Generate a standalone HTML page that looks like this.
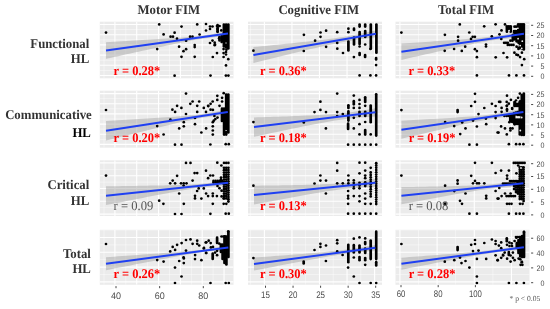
<!DOCTYPE html>
<html><head><meta charset="utf-8"><title>FIM vs HL correlations</title>
<style>
html,body{margin:0;padding:0;background:#fff;width:550px;height:309px;overflow:hidden}
svg{display:block;filter:blur(0.3px)}
text{text-rendering:geometricPrecision}
.hd{font-family:"Liberation Serif",serif;font-weight:bold;font-size:13.4px;fill:#333333}
.hk{fill:#000000}
.ax{font-family:"Liberation Sans",sans-serif;font-size:9.5px;fill:#4D4D4D}
.ay{font-family:"Liberation Sans",sans-serif;font-size:8.0px;fill:#4D4D4D}
.rs{font-family:"Liberation Serif",serif;font-weight:bold;font-size:13.2px;fill:#FF0000}
.rn{font-family:"Liberation Serif",serif;font-size:13.2px;fill:#555555}
.pv{font-family:"Liberation Serif",serif;font-size:7.8px;fill:#555555}
</style></head><body>
<svg width="550" height="309" viewBox="0 0 550 309">
<rect width="550" height="309" fill="#ffffff"/>
<clipPath id="c00"><rect x="99.8" y="21.7" width="133.70" height="56.60"/></clipPath>
<rect x="99.8" y="21.7" width="133.70" height="56.60" fill="#EBEBEB"/>
<g clip-path="url(#c00)"><line x1="103.99" y1="21.7" x2="103.99" y2="78.3" stroke="#fff" stroke-width="0.55" opacity="0.8"/><line x1="125.81" y1="21.7" x2="125.81" y2="78.3" stroke="#fff" stroke-width="0.55" opacity="0.8"/><line x1="147.64" y1="21.7" x2="147.64" y2="78.3" stroke="#fff" stroke-width="0.55" opacity="0.8"/><line x1="169.46" y1="21.7" x2="169.46" y2="78.3" stroke="#fff" stroke-width="0.55" opacity="0.8"/><line x1="191.29" y1="21.7" x2="191.29" y2="78.3" stroke="#fff" stroke-width="0.55" opacity="0.8"/><line x1="213.11" y1="21.7" x2="213.11" y2="78.3" stroke="#fff" stroke-width="0.55" opacity="0.8"/><line x1="99.8" y1="70.40" x2="233.5" y2="70.40" stroke="#fff" stroke-width="0.55" opacity="0.8"/><line x1="99.8" y1="60.20" x2="233.5" y2="60.20" stroke="#fff" stroke-width="0.55" opacity="0.8"/><line x1="99.8" y1="50.00" x2="233.5" y2="50.00" stroke="#fff" stroke-width="0.55" opacity="0.8"/><line x1="99.8" y1="39.80" x2="233.5" y2="39.80" stroke="#fff" stroke-width="0.55" opacity="0.8"/><line x1="99.8" y1="29.60" x2="233.5" y2="29.60" stroke="#fff" stroke-width="0.55" opacity="0.8"/><line x1="114.90" y1="21.7" x2="114.90" y2="78.3" stroke="#fff" stroke-width="1.1"/><line x1="136.72" y1="21.7" x2="136.72" y2="78.3" stroke="#fff" stroke-width="1.1"/><line x1="158.55" y1="21.7" x2="158.55" y2="78.3" stroke="#fff" stroke-width="1.1"/><line x1="180.38" y1="21.7" x2="180.38" y2="78.3" stroke="#fff" stroke-width="1.1"/><line x1="202.20" y1="21.7" x2="202.20" y2="78.3" stroke="#fff" stroke-width="1.1"/><line x1="224.03" y1="21.7" x2="224.03" y2="78.3" stroke="#fff" stroke-width="1.1"/><line x1="99.8" y1="75.50" x2="233.5" y2="75.50" stroke="#fff" stroke-width="1.1"/><line x1="99.8" y1="65.30" x2="233.5" y2="65.30" stroke="#fff" stroke-width="1.1"/><line x1="99.8" y1="55.10" x2="233.5" y2="55.10" stroke="#fff" stroke-width="1.1"/><line x1="99.8" y1="44.90" x2="233.5" y2="44.90" stroke="#fff" stroke-width="1.1"/><line x1="99.8" y1="34.70" x2="233.5" y2="34.70" stroke="#fff" stroke-width="1.1"/><line x1="99.8" y1="24.50" x2="233.5" y2="24.50" stroke="#fff" stroke-width="1.1"/>
<polygon points="106.00,42.20 110.07,41.97 114.13,41.73 118.20,41.49 122.27,41.26 126.33,41.02 130.40,40.78 134.47,40.54 138.53,40.30 142.60,40.06 146.67,39.81 150.73,39.57 154.80,39.32 158.87,39.06 162.93,38.81 167.00,38.55 171.07,38.28 175.13,38.00 179.20,37.71 183.27,37.41 187.33,37.09 191.40,36.74 195.47,36.35 199.53,35.90 203.60,35.40 207.67,34.82 211.73,34.18 215.80,33.48 219.87,32.73 223.93,31.95 228.00,31.14 228.00,36.06 223.93,36.38 219.87,36.72 215.80,37.10 211.73,37.52 207.67,38.01 203.60,38.56 199.53,39.18 195.47,39.87 191.40,40.60 187.33,41.38 183.27,42.18 179.20,43.01 175.13,43.84 171.07,44.69 167.00,45.55 162.93,46.42 158.87,47.29 154.80,48.16 150.73,49.04 146.67,49.92 142.60,50.80 138.53,51.69 134.47,52.57 130.40,53.46 126.33,54.35 122.27,55.24 118.20,56.13 114.13,57.02 110.07,57.91 106.00,58.80" fill="#999999" fill-opacity="0.43"/>
<g fill="#000"><circle cx="106" cy="32.6" r="1.35"/><circle cx="159.2" cy="24.4" r="1.35"/><circle cx="163.6" cy="34.4" r="1.35"/><circle cx="157.2" cy="49.1" r="1.35"/><circle cx="181.5" cy="26.6" r="1.35"/><circle cx="197.2" cy="24.4" r="1.35"/><circle cx="174.6" cy="32.7" r="1.35"/><circle cx="170.6" cy="36.7" r="1.35"/><circle cx="173" cy="36.7" r="1.35"/><circle cx="177" cy="38.7" r="1.35"/><circle cx="190.1" cy="36.7" r="1.35"/><circle cx="192.5" cy="36.7" r="1.35"/><circle cx="199.6" cy="34.5" r="1.35"/><circle cx="186.1" cy="40.7" r="1.35"/><circle cx="179.1" cy="46.7" r="1.35"/><circle cx="194.7" cy="45.1" r="1.35"/><circle cx="194.7" cy="47.1" r="1.35"/><circle cx="186.1" cy="49.2" r="1.35"/><circle cx="183.5" cy="51.2" r="1.35"/><circle cx="181.5" cy="56.8" r="1.35"/><circle cx="194.7" cy="56.8" r="1.35"/><circle cx="174.6" cy="75.7" r="1.35"/><circle cx="206" cy="24" r="1.35"/><circle cx="210" cy="26.5" r="1.35"/><circle cx="212.5" cy="26.5" r="1.35"/><circle cx="210" cy="29" r="1.35"/><circle cx="206" cy="30.5" r="1.35"/><circle cx="217" cy="26" r="1.35"/><circle cx="219.6" cy="26" r="1.35"/><circle cx="217.5" cy="29" r="1.35"/><circle cx="217.5" cy="31.5" r="1.35"/><circle cx="221.3" cy="30.4" r="1.35"/><circle cx="210" cy="43" r="1.35"/><circle cx="212.5" cy="40.6" r="1.35"/><circle cx="215" cy="44.6" r="1.35"/><circle cx="219.1" cy="38.2" r="1.35"/><circle cx="214.7" cy="42.7" r="1.35"/><circle cx="214.7" cy="45.2" r="1.35"/><circle cx="217" cy="53.1" r="1.35"/><circle cx="212.8" cy="57" r="1.35"/><circle cx="226.4" cy="49.7" r="1.35"/><circle cx="226" cy="52" r="1.35"/><circle cx="226" cy="54.5" r="1.35"/><circle cx="223.6" cy="49.1" r="1.35"/><circle cx="223.6" cy="53.1" r="1.35"/><circle cx="223.6" cy="57" r="1.35"/><circle cx="228.3" cy="59.2" r="1.35"/><circle cx="226" cy="65.4" r="1.35"/><circle cx="210.5" cy="75.6" r="1.35"/><circle cx="225.9" cy="75.6" r="1.35"/><circle cx="228.4" cy="75.6" r="1.35"/><line x1="228.3" y1="24.6" x2="228.3" y2="48.5" stroke="#000" stroke-width="2.7" stroke-linecap="round"/><line x1="226.1" y1="24.6" x2="226.1" y2="41.5" stroke="#000" stroke-width="2.7" stroke-linecap="round"/><line x1="226.1" y1="44.5" x2="226.1" y2="47.5" stroke="#000" stroke-width="2.7" stroke-linecap="round"/><line x1="223.9" y1="24.6" x2="223.9" y2="46.5" stroke="#000" stroke-width="2.7" stroke-linecap="round"/><line x1="221.7" y1="36" x2="221.7" y2="42" stroke="#000" stroke-width="2.7" stroke-linecap="round"/><line x1="219.5" y1="37" x2="219.5" y2="40.5" stroke="#000" stroke-width="2.7" stroke-linecap="round"/><line x1="217.6" y1="25.2" x2="217.6" y2="31.8" stroke="#000" stroke-width="2.7" stroke-linecap="round"/></g>
<line x1="106" y1="50.5" x2="228.0" y2="33.6" stroke="#1F40F2" stroke-width="2.0"/>
</g>
<text transform="translate(113.60,74.60) scale(0.945,1)" class="rs" text-anchor="start">r = 0.28*</text>
<clipPath id="c01"><rect x="248.0" y="21.7" width="134.00" height="56.60"/></clipPath>
<rect x="248.0" y="21.7" width="134.00" height="56.60" fill="#EBEBEB"/>
<g clip-path="url(#c01)"><line x1="250.62" y1="21.7" x2="250.62" y2="78.3" stroke="#fff" stroke-width="0.55" opacity="0.8"/><line x1="278.17" y1="21.7" x2="278.17" y2="78.3" stroke="#fff" stroke-width="0.55" opacity="0.8"/><line x1="305.72" y1="21.7" x2="305.72" y2="78.3" stroke="#fff" stroke-width="0.55" opacity="0.8"/><line x1="333.27" y1="21.7" x2="333.27" y2="78.3" stroke="#fff" stroke-width="0.55" opacity="0.8"/><line x1="360.82" y1="21.7" x2="360.82" y2="78.3" stroke="#fff" stroke-width="0.55" opacity="0.8"/><line x1="248.0" y1="70.40" x2="382.0" y2="70.40" stroke="#fff" stroke-width="0.55" opacity="0.8"/><line x1="248.0" y1="60.20" x2="382.0" y2="60.20" stroke="#fff" stroke-width="0.55" opacity="0.8"/><line x1="248.0" y1="50.00" x2="382.0" y2="50.00" stroke="#fff" stroke-width="0.55" opacity="0.8"/><line x1="248.0" y1="39.80" x2="382.0" y2="39.80" stroke="#fff" stroke-width="0.55" opacity="0.8"/><line x1="248.0" y1="29.60" x2="382.0" y2="29.60" stroke="#fff" stroke-width="0.55" opacity="0.8"/><line x1="264.40" y1="21.7" x2="264.40" y2="78.3" stroke="#fff" stroke-width="1.1"/><line x1="291.95" y1="21.7" x2="291.95" y2="78.3" stroke="#fff" stroke-width="1.1"/><line x1="319.50" y1="21.7" x2="319.50" y2="78.3" stroke="#fff" stroke-width="1.1"/><line x1="347.05" y1="21.7" x2="347.05" y2="78.3" stroke="#fff" stroke-width="1.1"/><line x1="374.60" y1="21.7" x2="374.60" y2="78.3" stroke="#fff" stroke-width="1.1"/><line x1="248.0" y1="75.50" x2="382.0" y2="75.50" stroke="#fff" stroke-width="1.1"/><line x1="248.0" y1="65.30" x2="382.0" y2="65.30" stroke="#fff" stroke-width="1.1"/><line x1="248.0" y1="55.10" x2="382.0" y2="55.10" stroke="#fff" stroke-width="1.1"/><line x1="248.0" y1="44.90" x2="382.0" y2="44.90" stroke="#fff" stroke-width="1.1"/><line x1="248.0" y1="34.70" x2="382.0" y2="34.70" stroke="#fff" stroke-width="1.1"/><line x1="248.0" y1="24.50" x2="382.0" y2="24.50" stroke="#fff" stroke-width="1.1"/>
<polygon points="253.40,47.10 257.48,46.70 261.57,46.30 265.65,45.89 269.73,45.49 273.82,45.08 277.90,44.67 281.98,44.25 286.07,43.84 290.15,43.42 294.23,42.99 298.32,42.56 302.40,42.12 306.48,41.67 310.57,41.22 314.65,40.75 318.73,40.27 322.82,39.77 326.90,39.25 330.98,38.71 335.07,38.14 339.15,37.53 343.23,36.89 347.32,36.21 351.40,35.49 355.48,34.72 359.57,33.92 363.65,33.08 367.73,32.21 371.82,31.32 375.90,30.40 375.90,37.20 371.82,37.70 367.73,38.23 363.65,38.78 359.57,39.36 355.48,39.98 351.40,40.63 347.32,41.33 343.23,42.07 339.15,42.85 335.07,43.66 330.98,44.51 326.90,45.39 322.82,46.29 318.73,47.21 314.65,48.15 310.57,49.10 306.48,50.07 302.40,51.04 298.32,52.02 294.23,53.01 290.15,54.00 286.07,55.00 281.98,56.01 277.90,57.01 273.82,58.02 269.73,59.03 265.65,60.05 261.57,61.06 257.48,62.08 253.40,63.10" fill="#999999" fill-opacity="0.43"/>
<g fill="#000"><circle cx="253.4" cy="50.7" r="1.35"/><circle cx="303.9" cy="34.8" r="1.35"/><circle cx="303.8" cy="51" r="1.35"/><circle cx="315.1" cy="40.7" r="1.35"/><circle cx="320.5" cy="32.5" r="1.35"/><circle cx="320.5" cy="36.8" r="1.35"/><circle cx="326.1" cy="30.7" r="1.35"/><circle cx="326.1" cy="46.8" r="1.35"/><circle cx="337.2" cy="32.2" r="1.35"/><circle cx="337.2" cy="42.9" r="1.35"/><circle cx="337.3" cy="48.7" r="1.35"/><circle cx="343" cy="53" r="1.35"/><circle cx="348.4" cy="28.7" r="1.35"/><circle cx="348.4" cy="32.2" r="1.35"/><circle cx="353.9" cy="57.1" r="1.35"/><circle cx="365.2" cy="44.5" r="1.35"/><circle cx="359.6" cy="46.5" r="1.35"/><circle cx="370.4" cy="49" r="1.35"/><circle cx="376.1" cy="65.1" r="1.35"/><circle cx="376.1" cy="75.4" r="1.35"/><circle cx="359.6" cy="75.4" r="1.35"/><circle cx="370.4" cy="75.4" r="1.35"/><line x1="348.4" y1="41.5" x2="348.4" y2="50.5" stroke="#000" stroke-width="2.7" stroke-linecap="round"/><line x1="354" y1="28.7" x2="354" y2="30" stroke="#000" stroke-width="2.7" stroke-linecap="round"/><line x1="354" y1="37.5" x2="354" y2="44.5" stroke="#000" stroke-width="2.7" stroke-linecap="round"/><line x1="359.6" y1="24.6" x2="359.6" y2="26.6" stroke="#000" stroke-width="2.7" stroke-linecap="round"/><line x1="359.6" y1="32" x2="359.6" y2="44" stroke="#000" stroke-width="2.7" stroke-linecap="round"/><line x1="359.6" y1="53" x2="359.6" y2="55" stroke="#000" stroke-width="2.7" stroke-linecap="round"/><line x1="365.2" y1="24.6" x2="365.2" y2="26.6" stroke="#000" stroke-width="2.7" stroke-linecap="round"/><line x1="365.2" y1="31" x2="365.2" y2="37" stroke="#000" stroke-width="2.7" stroke-linecap="round"/><line x1="365.1" y1="55" x2="365.1" y2="57" stroke="#000" stroke-width="2.7" stroke-linecap="round"/><line x1="370.8" y1="24.6" x2="370.8" y2="48.5" stroke="#000" stroke-width="2.7" stroke-linecap="round"/><line x1="376.4" y1="24.6" x2="376.4" y2="52.7" stroke="#000" stroke-width="2.7" stroke-linecap="round"/><line x1="376.1" y1="58" x2="376.1" y2="59.4" stroke="#000" stroke-width="2.7" stroke-linecap="round"/></g>
<line x1="253.4" y1="55.1" x2="375.9" y2="33.8" stroke="#1F40F2" stroke-width="2.0"/>
</g>
<text transform="translate(260.10,74.60) scale(0.945,1)" class="rs" text-anchor="start">r = 0.36*</text>
<clipPath id="c02"><rect x="395.5" y="21.7" width="134.00" height="56.60"/></clipPath>
<rect x="395.5" y="21.7" width="134.00" height="56.60" fill="#EBEBEB"/>
<g clip-path="url(#c02)"><line x1="418.50" y1="21.7" x2="418.50" y2="78.3" stroke="#fff" stroke-width="0.55" opacity="0.8"/><line x1="455.70" y1="21.7" x2="455.70" y2="78.3" stroke="#fff" stroke-width="0.55" opacity="0.8"/><line x1="492.90" y1="21.7" x2="492.90" y2="78.3" stroke="#fff" stroke-width="0.55" opacity="0.8"/><line x1="395.5" y1="70.40" x2="529.5" y2="70.40" stroke="#fff" stroke-width="0.55" opacity="0.8"/><line x1="395.5" y1="60.20" x2="529.5" y2="60.20" stroke="#fff" stroke-width="0.55" opacity="0.8"/><line x1="395.5" y1="50.00" x2="529.5" y2="50.00" stroke="#fff" stroke-width="0.55" opacity="0.8"/><line x1="395.5" y1="39.80" x2="529.5" y2="39.80" stroke="#fff" stroke-width="0.55" opacity="0.8"/><line x1="395.5" y1="29.60" x2="529.5" y2="29.60" stroke="#fff" stroke-width="0.55" opacity="0.8"/><line x1="399.90" y1="21.7" x2="399.90" y2="78.3" stroke="#fff" stroke-width="1.1"/><line x1="437.10" y1="21.7" x2="437.10" y2="78.3" stroke="#fff" stroke-width="1.1"/><line x1="474.30" y1="21.7" x2="474.30" y2="78.3" stroke="#fff" stroke-width="1.1"/><line x1="511.50" y1="21.7" x2="511.50" y2="78.3" stroke="#fff" stroke-width="1.1"/><line x1="395.5" y1="75.50" x2="529.5" y2="75.50" stroke="#fff" stroke-width="1.1"/><line x1="395.5" y1="65.30" x2="529.5" y2="65.30" stroke="#fff" stroke-width="1.1"/><line x1="395.5" y1="55.10" x2="529.5" y2="55.10" stroke="#fff" stroke-width="1.1"/><line x1="395.5" y1="44.90" x2="529.5" y2="44.90" stroke="#fff" stroke-width="1.1"/><line x1="395.5" y1="34.70" x2="529.5" y2="34.70" stroke="#fff" stroke-width="1.1"/><line x1="395.5" y1="24.50" x2="529.5" y2="24.50" stroke="#fff" stroke-width="1.1"/>
<polygon points="401.40,43.50 405.48,43.24 409.57,42.98 413.65,42.71 417.73,42.45 421.82,42.18 425.90,41.92 429.98,41.65 434.07,41.37 438.15,41.10 442.23,40.82 446.32,40.54 450.40,40.25 454.48,39.96 458.57,39.66 462.65,39.35 466.73,39.02 470.82,38.68 474.90,38.32 478.98,37.94 483.07,37.52 487.15,37.05 491.23,36.54 495.32,35.97 499.40,35.34 503.48,34.65 507.57,33.91 511.65,33.13 515.73,32.32 519.82,31.48 523.90,30.63 523.90,36.97 519.82,37.31 515.73,37.66 511.65,38.05 507.57,38.46 503.48,38.92 499.40,39.42 495.32,39.99 491.23,40.61 487.15,41.29 483.07,42.02 478.98,42.79 474.90,43.60 470.82,44.43 466.73,45.28 462.65,46.15 458.57,47.04 454.48,47.93 450.40,48.83 446.32,49.73 442.23,50.64 438.15,51.56 434.07,52.48 429.98,53.40 425.90,54.32 421.82,55.25 417.73,56.18 413.65,57.11 409.57,58.04 405.48,58.97 401.40,59.90" fill="#999999" fill-opacity="0.43"/>
<g fill="#000"><circle cx="401.4" cy="32.6" r="1.35"/><circle cx="444.9" cy="34.8" r="1.35"/><circle cx="459.8" cy="24.4" r="1.35"/><circle cx="458.1" cy="36.8" r="1.35"/><circle cx="458.1" cy="40.7" r="1.35"/><circle cx="469.3" cy="32.5" r="1.35"/><circle cx="472.7" cy="36.8" r="1.35"/><circle cx="474.9" cy="36.8" r="1.35"/><circle cx="471" cy="38.9" r="1.35"/><circle cx="465.2" cy="46.7" r="1.35"/><circle cx="454.1" cy="49" r="1.35"/><circle cx="474.9" cy="49.2" r="1.35"/><circle cx="444.7" cy="50.8" r="1.35"/><circle cx="461.8" cy="50.9" r="1.35"/><circle cx="476.9" cy="51.1" r="1.35"/><circle cx="476.9" cy="57.2" r="1.35"/><circle cx="476.9" cy="75.4" r="1.35"/><circle cx="484.2" cy="26.3" r="1.35"/><circle cx="495.6" cy="24.3" r="1.35"/><circle cx="501.5" cy="30.4" r="1.35"/><circle cx="499.5" cy="34.3" r="1.35"/><circle cx="491.8" cy="36.3" r="1.35"/><circle cx="501.3" cy="38.9" r="1.35"/><circle cx="486" cy="44.5" r="1.35"/><circle cx="486" cy="46.5" r="1.35"/><circle cx="495.7" cy="57.3" r="1.35"/><circle cx="503.5" cy="53" r="1.35"/><circle cx="507.1" cy="57.3" r="1.35"/><circle cx="514.4" cy="52.7" r="1.35"/><circle cx="516.4" cy="54.7" r="1.35"/><circle cx="518" cy="55.2" r="1.35"/><circle cx="520.1" cy="57.1" r="1.35"/><circle cx="524.2" cy="59.2" r="1.35"/><circle cx="521.9" cy="65.1" r="1.35"/><circle cx="521.9" cy="52.7" r="1.35"/><circle cx="509" cy="75.4" r="1.35"/><circle cx="516.4" cy="75.4" r="1.35"/><circle cx="524" cy="75.4" r="1.35"/><circle cx="505.0" cy="24.4" r="1.35"/><circle cx="514.5" cy="26.7" r="1.35"/><circle cx="516.1" cy="26.7" r="1.35"/><circle cx="516.6" cy="46.7" r="1.35"/><line x1="506.9" y1="26.3" x2="506.9" y2="31.7" stroke="#000" stroke-width="2.7" stroke-linecap="round"/><line x1="508.8" y1="26.3" x2="508.8" y2="29.2" stroke="#000" stroke-width="2.7" stroke-linecap="round"/><line x1="510.7" y1="26.3" x2="510.7" y2="31.7" stroke="#000" stroke-width="2.7" stroke-linecap="round"/><line x1="514.1" y1="31" x2="514.1" y2="32.3" stroke="#000" stroke-width="2.7" stroke-linecap="round"/><line x1="515.9" y1="31" x2="515.9" y2="32.3" stroke="#000" stroke-width="2.7" stroke-linecap="round"/><line x1="518.2" y1="24.3" x2="518.2" y2="26.5" stroke="#000" stroke-width="2.7" stroke-linecap="round"/><line x1="518.2" y1="30.2" x2="518.2" y2="38" stroke="#000" stroke-width="2.7" stroke-linecap="round"/><line x1="520.1" y1="24.3" x2="520.1" y2="48" stroke="#000" stroke-width="2.7" stroke-linecap="round"/><line x1="522.0" y1="24.3" x2="522.0" y2="49" stroke="#000" stroke-width="2.7" stroke-linecap="round"/><line x1="523.8" y1="24.3" x2="523.8" y2="49.5" stroke="#000" stroke-width="2.7" stroke-linecap="round"/><line x1="512.8" y1="35" x2="512.8" y2="39.5" stroke="#000" stroke-width="2.7" stroke-linecap="round"/><line x1="514.7" y1="34" x2="514.7" y2="39.5" stroke="#000" stroke-width="2.7" stroke-linecap="round"/><line x1="516.6" y1="33" x2="516.6" y2="41.3" stroke="#000" stroke-width="2.7" stroke-linecap="round"/><line x1="518.5" y1="39.5" x2="518.5" y2="42.8" stroke="#000" stroke-width="2.7" stroke-linecap="round"/><line x1="518.5" y1="47.8" x2="518.5" y2="49" stroke="#000" stroke-width="2.7" stroke-linecap="round"/><circle cx="504.10" cy="42.8" r="1.35"/><circle cx="505.95" cy="42.8" r="1.35"/><circle cx="507.80" cy="42.8" r="1.35"/><circle cx="507.80" cy="44.9" r="1.35"/><circle cx="509.70" cy="44.9" r="1.35"/><circle cx="511.60" cy="44.9" r="1.35"/><circle cx="513.50" cy="44.9" r="1.35"/><circle cx="510.40" cy="40.7" r="1.35"/><circle cx="512.40" cy="40.7" r="1.35"/></g>
<g fill="#EBEBEB"><circle cx="518.1" cy="38.7" r="0.9"/><circle cx="522.3" cy="41.2" r="0.9"/><circle cx="521.7" cy="48.5" r="0.9"/><circle cx="520.2" cy="45.6" r="0.9"/><circle cx="509.1" cy="30.6" r="0.9"/></g>
<line x1="401.4" y1="51.7" x2="523.9" y2="33.8" stroke="#1F40F2" stroke-width="2.0"/>
</g>
<text transform="translate(408.50,74.60) scale(0.945,1)" class="rs" text-anchor="start">r = 0.33*</text>
<clipPath id="c10"><rect x="99.8" y="90.7" width="133.70" height="57.00"/></clipPath>
<rect x="99.8" y="90.7" width="133.70" height="57.00" fill="#EBEBEB"/>
<g clip-path="url(#c10)"><line x1="103.99" y1="90.7" x2="103.99" y2="147.7" stroke="#fff" stroke-width="0.55" opacity="0.8"/><line x1="125.81" y1="90.7" x2="125.81" y2="147.7" stroke="#fff" stroke-width="0.55" opacity="0.8"/><line x1="147.64" y1="90.7" x2="147.64" y2="147.7" stroke="#fff" stroke-width="0.55" opacity="0.8"/><line x1="169.46" y1="90.7" x2="169.46" y2="147.7" stroke="#fff" stroke-width="0.55" opacity="0.8"/><line x1="191.29" y1="90.7" x2="191.29" y2="147.7" stroke="#fff" stroke-width="0.55" opacity="0.8"/><line x1="213.11" y1="90.7" x2="213.11" y2="147.7" stroke="#fff" stroke-width="0.55" opacity="0.8"/><line x1="99.8" y1="139.32" x2="233.5" y2="139.32" stroke="#fff" stroke-width="0.55" opacity="0.8"/><line x1="99.8" y1="129.16" x2="233.5" y2="129.16" stroke="#fff" stroke-width="0.55" opacity="0.8"/><line x1="99.8" y1="119.00" x2="233.5" y2="119.00" stroke="#fff" stroke-width="0.55" opacity="0.8"/><line x1="99.8" y1="108.84" x2="233.5" y2="108.84" stroke="#fff" stroke-width="0.55" opacity="0.8"/><line x1="99.8" y1="98.68" x2="233.5" y2="98.68" stroke="#fff" stroke-width="0.55" opacity="0.8"/><line x1="114.90" y1="90.7" x2="114.90" y2="147.7" stroke="#fff" stroke-width="1.1"/><line x1="136.72" y1="90.7" x2="136.72" y2="147.7" stroke="#fff" stroke-width="1.1"/><line x1="158.55" y1="90.7" x2="158.55" y2="147.7" stroke="#fff" stroke-width="1.1"/><line x1="180.38" y1="90.7" x2="180.38" y2="147.7" stroke="#fff" stroke-width="1.1"/><line x1="202.20" y1="90.7" x2="202.20" y2="147.7" stroke="#fff" stroke-width="1.1"/><line x1="224.03" y1="90.7" x2="224.03" y2="147.7" stroke="#fff" stroke-width="1.1"/><line x1="99.8" y1="144.40" x2="233.5" y2="144.40" stroke="#fff" stroke-width="1.1"/><line x1="99.8" y1="134.24" x2="233.5" y2="134.24" stroke="#fff" stroke-width="1.1"/><line x1="99.8" y1="124.08" x2="233.5" y2="124.08" stroke="#fff" stroke-width="1.1"/><line x1="99.8" y1="113.92" x2="233.5" y2="113.92" stroke="#fff" stroke-width="1.1"/><line x1="99.8" y1="103.76" x2="233.5" y2="103.76" stroke="#fff" stroke-width="1.1"/><line x1="99.8" y1="93.60" x2="233.5" y2="93.60" stroke="#fff" stroke-width="1.1"/>
<polygon points="106.00,120.90 110.06,120.66 114.12,120.43 118.18,120.19 122.24,119.95 126.30,119.71 130.36,119.47 134.42,119.23 138.48,118.99 142.54,118.74 146.60,118.49 150.66,118.24 154.72,117.99 158.78,117.73 162.84,117.47 166.90,117.21 170.96,116.93 175.02,116.65 179.08,116.35 183.14,116.03 187.20,115.69 191.26,115.32 195.32,114.90 199.38,114.42 203.44,113.87 207.50,113.24 211.56,112.53 215.62,111.74 219.68,110.90 223.74,110.02 227.80,109.11 227.80,114.89 223.74,115.23 219.68,115.59 215.62,116.00 211.56,116.46 207.50,116.99 203.44,117.61 199.38,118.30 195.32,119.07 191.26,119.90 187.20,120.77 183.14,121.68 179.08,122.61 175.02,123.56 170.96,124.52 166.90,125.49 162.84,126.47 158.78,127.46 154.72,128.45 150.66,129.44 146.60,130.44 142.54,131.44 138.48,132.44 134.42,133.44 130.36,134.45 126.30,135.46 122.24,136.46 118.18,137.47 114.12,138.48 110.06,139.49 106.00,140.50" fill="#999999" fill-opacity="0.43"/>
<g fill="#000"><circle cx="106" cy="110" r="1.35"/><circle cx="157.2" cy="126.1" r="1.35"/><circle cx="163.6" cy="134.5" r="1.35"/><circle cx="186" cy="93.6" r="1.35"/><circle cx="192.6" cy="101.5" r="1.35"/><circle cx="190.3" cy="103.8" r="1.35"/><circle cx="199.2" cy="101.5" r="1.35"/><circle cx="197.2" cy="105.8" r="1.35"/><circle cx="177.1" cy="105.8" r="1.35"/><circle cx="181.4" cy="107.9" r="1.35"/><circle cx="172.4" cy="109.7" r="1.35"/><circle cx="175.1" cy="111.9" r="1.35"/><circle cx="186" cy="114" r="1.35"/><circle cx="197.2" cy="111.9" r="1.35"/><circle cx="203.8" cy="107.9" r="1.35"/><circle cx="206" cy="111.9" r="1.35"/><circle cx="208.1" cy="105.8" r="1.35"/><circle cx="210.6" cy="103.8" r="1.35"/><circle cx="212.7" cy="101.5" r="1.35"/><circle cx="210.6" cy="109.7" r="1.35"/><circle cx="212.9" cy="109.9" r="1.35"/><circle cx="170.4" cy="119.6" r="1.35"/><circle cx="183.8" cy="122.2" r="1.35"/><circle cx="183.8" cy="126.3" r="1.35"/><circle cx="179.2" cy="128.4" r="1.35"/><circle cx="195" cy="124.2" r="1.35"/><circle cx="195" cy="118" r="1.35"/><circle cx="201.4" cy="132.5" r="1.35"/><circle cx="206.1" cy="128.4" r="1.35"/><circle cx="212.8" cy="122.2" r="1.35"/><circle cx="212.8" cy="126.3" r="1.35"/><circle cx="212.8" cy="130.5" r="1.35"/><circle cx="212.8" cy="134.6" r="1.35"/><circle cx="175" cy="144.7" r="1.35"/><circle cx="181.5" cy="144.7" r="1.35"/><circle cx="210.4" cy="144.5" r="1.35"/><circle cx="223.7" cy="93.2" r="1.35"/><circle cx="217.3" cy="95.8" r="1.35"/><circle cx="222.1" cy="97.8" r="1.35"/><circle cx="217.3" cy="99.9" r="1.35"/><circle cx="222.1" cy="101.5" r="1.35"/><circle cx="208.3" cy="106.1" r="1.35"/><circle cx="219.5" cy="105.8" r="1.35"/><circle cx="214.4" cy="116" r="1.35"/><circle cx="217.5" cy="117.6" r="1.35"/><circle cx="215.4" cy="119.1" r="1.35"/><circle cx="213.8" cy="120.7" r="1.35"/><circle cx="225.7" cy="144.2" r="1.35"/><circle cx="228.8" cy="144.2" r="1.35"/><line x1="228.3" y1="94.5" x2="228.3" y2="132.5" stroke="#000" stroke-width="2.7" stroke-linecap="round"/><line x1="226.2" y1="94.5" x2="226.2" y2="129" stroke="#000" stroke-width="2.7" stroke-linecap="round"/><line x1="226.2" y1="132" x2="226.2" y2="134.6" stroke="#000" stroke-width="2.7" stroke-linecap="round"/><line x1="224.1" y1="108.7" x2="224.1" y2="134.6" stroke="#000" stroke-width="2.7" stroke-linecap="round"/><line x1="222.0" y1="108.7" x2="222.0" y2="121" stroke="#000" stroke-width="2.7" stroke-linecap="round"/></g>
<line x1="106" y1="130.7" x2="227.8" y2="112.0" stroke="#1F40F2" stroke-width="2.0"/>
</g>
<text transform="translate(113.60,141.50) scale(0.945,1)" class="rs" text-anchor="start">r = 0.20*</text>
<clipPath id="c11"><rect x="248.0" y="90.7" width="134.00" height="57.00"/></clipPath>
<rect x="248.0" y="90.7" width="134.00" height="57.00" fill="#EBEBEB"/>
<g clip-path="url(#c11)"><line x1="250.62" y1="90.7" x2="250.62" y2="147.7" stroke="#fff" stroke-width="0.55" opacity="0.8"/><line x1="278.17" y1="90.7" x2="278.17" y2="147.7" stroke="#fff" stroke-width="0.55" opacity="0.8"/><line x1="305.72" y1="90.7" x2="305.72" y2="147.7" stroke="#fff" stroke-width="0.55" opacity="0.8"/><line x1="333.27" y1="90.7" x2="333.27" y2="147.7" stroke="#fff" stroke-width="0.55" opacity="0.8"/><line x1="360.82" y1="90.7" x2="360.82" y2="147.7" stroke="#fff" stroke-width="0.55" opacity="0.8"/><line x1="248.0" y1="139.32" x2="382.0" y2="139.32" stroke="#fff" stroke-width="0.55" opacity="0.8"/><line x1="248.0" y1="129.16" x2="382.0" y2="129.16" stroke="#fff" stroke-width="0.55" opacity="0.8"/><line x1="248.0" y1="119.00" x2="382.0" y2="119.00" stroke="#fff" stroke-width="0.55" opacity="0.8"/><line x1="248.0" y1="108.84" x2="382.0" y2="108.84" stroke="#fff" stroke-width="0.55" opacity="0.8"/><line x1="248.0" y1="98.68" x2="382.0" y2="98.68" stroke="#fff" stroke-width="0.55" opacity="0.8"/><line x1="264.40" y1="90.7" x2="264.40" y2="147.7" stroke="#fff" stroke-width="1.1"/><line x1="291.95" y1="90.7" x2="291.95" y2="147.7" stroke="#fff" stroke-width="1.1"/><line x1="319.50" y1="90.7" x2="319.50" y2="147.7" stroke="#fff" stroke-width="1.1"/><line x1="347.05" y1="90.7" x2="347.05" y2="147.7" stroke="#fff" stroke-width="1.1"/><line x1="374.60" y1="90.7" x2="374.60" y2="147.7" stroke="#fff" stroke-width="1.1"/><line x1="248.0" y1="144.40" x2="382.0" y2="144.40" stroke="#fff" stroke-width="1.1"/><line x1="248.0" y1="134.24" x2="382.0" y2="134.24" stroke="#fff" stroke-width="1.1"/><line x1="248.0" y1="124.08" x2="382.0" y2="124.08" stroke="#fff" stroke-width="1.1"/><line x1="248.0" y1="113.92" x2="382.0" y2="113.92" stroke="#fff" stroke-width="1.1"/><line x1="248.0" y1="103.76" x2="382.0" y2="103.76" stroke="#fff" stroke-width="1.1"/><line x1="248.0" y1="93.60" x2="382.0" y2="93.60" stroke="#fff" stroke-width="1.1"/>
<polygon points="254.00,117.40 258.05,117.28 262.09,117.16 266.14,117.04 270.19,116.91 274.23,116.78 278.28,116.65 282.33,116.52 286.37,116.38 290.42,116.23 294.47,116.08 298.51,115.93 302.56,115.76 306.61,115.59 310.65,115.40 314.70,115.20 318.75,114.99 322.79,114.75 326.84,114.49 330.89,114.20 334.93,113.88 338.98,113.51 343.03,113.10 347.07,112.65 351.12,112.14 355.17,111.58 359.21,110.98 363.26,110.34 367.31,109.65 371.35,108.94 375.40,108.20 375.40,116.40 371.35,116.65 367.31,116.92 363.26,117.22 359.21,117.57 355.17,117.95 351.12,118.38 347.07,118.86 343.03,119.39 338.98,119.97 334.93,120.59 330.89,121.25 326.84,121.95 322.79,122.68 318.75,123.43 314.70,124.20 310.65,124.99 306.61,125.79 302.56,126.60 298.51,127.42 294.47,128.25 290.42,129.09 286.37,129.93 282.33,130.78 278.28,131.63 274.23,132.48 270.19,133.34 266.14,134.20 262.09,135.07 258.05,135.93 254.00,136.80" fill="#999999" fill-opacity="0.43"/>
<g fill="#000"><circle cx="253.4" cy="122.1" r="1.35"/><circle cx="303.8" cy="122.5" r="1.35"/><circle cx="314.5" cy="112.1" r="1.35"/><circle cx="337.2" cy="93.6" r="1.35"/><circle cx="353.8" cy="95.6" r="1.35"/><circle cx="320.4" cy="101.7" r="1.35"/><circle cx="353.8" cy="107.9" r="1.35"/><circle cx="320.4" cy="109.9" r="1.35"/><circle cx="326" cy="112.1" r="1.35"/><circle cx="337.2" cy="112.1" r="1.35"/><circle cx="342.8" cy="114" r="1.35"/><circle cx="353.8" cy="117.8" r="1.35"/><circle cx="337.2" cy="116" r="1.35"/><circle cx="325.9" cy="128.4" r="1.35"/><circle cx="353.8" cy="128.4" r="1.35"/><circle cx="348.1" cy="144.7" r="1.35"/><circle cx="353.8" cy="144.7" r="1.35"/><circle cx="359.5" cy="99.9" r="1.35"/><circle cx="359.5" cy="104" r="1.35"/><circle cx="359.5" cy="107.9" r="1.35"/><circle cx="365.2" cy="105.8" r="1.35"/><circle cx="359.5" cy="124.2" r="1.35"/><circle cx="365.2" cy="122" r="1.35"/><circle cx="359.5" cy="134.4" r="1.35"/><circle cx="370.7" cy="134.4" r="1.35"/><circle cx="359.5" cy="144.7" r="1.35"/><circle cx="365.2" cy="144.7" r="1.35"/><circle cx="370.7" cy="144.7" r="1.35"/><circle cx="376.2" cy="144.7" r="1.35"/><line x1="353.8" y1="101.2" x2="353.8" y2="104.3" stroke="#000" stroke-width="2.7" stroke-linecap="round"/><line x1="348.4" y1="105.3" x2="348.4" y2="107.9" stroke="#000" stroke-width="2.7" stroke-linecap="round"/><line x1="348.4" y1="111.4" x2="348.4" y2="120.6" stroke="#000" stroke-width="2.7" stroke-linecap="round"/><line x1="348.1" y1="123.7" x2="348.1" y2="128.9" stroke="#000" stroke-width="2.7" stroke-linecap="round"/><line x1="359.5" y1="111.8" x2="359.5" y2="116" stroke="#000" stroke-width="2.7" stroke-linecap="round"/><line x1="365.2" y1="97.3" x2="365.2" y2="102" stroke="#000" stroke-width="2.7" stroke-linecap="round"/><line x1="365.2" y1="111.8" x2="365.2" y2="116" stroke="#000" stroke-width="2.7" stroke-linecap="round"/><line x1="365.2" y1="130" x2="365.2" y2="134.6" stroke="#000" stroke-width="2.7" stroke-linecap="round"/><line x1="370.7" y1="105.6" x2="370.7" y2="122.2" stroke="#000" stroke-width="2.7" stroke-linecap="round"/><line x1="376.2" y1="94.3" x2="376.2" y2="135.6" stroke="#000" stroke-width="2.7" stroke-linecap="round"/></g>
<line x1="254" y1="127.1" x2="375.4" y2="112.3" stroke="#1F40F2" stroke-width="2.0"/>
</g>
<text transform="translate(260.10,141.50) scale(0.945,1)" class="rs" text-anchor="start">r = 0.18*</text>
<clipPath id="c12"><rect x="395.5" y="90.7" width="134.00" height="57.00"/></clipPath>
<rect x="395.5" y="90.7" width="134.00" height="57.00" fill="#EBEBEB"/>
<g clip-path="url(#c12)"><line x1="418.50" y1="90.7" x2="418.50" y2="147.7" stroke="#fff" stroke-width="0.55" opacity="0.8"/><line x1="455.70" y1="90.7" x2="455.70" y2="147.7" stroke="#fff" stroke-width="0.55" opacity="0.8"/><line x1="492.90" y1="90.7" x2="492.90" y2="147.7" stroke="#fff" stroke-width="0.55" opacity="0.8"/><line x1="395.5" y1="139.32" x2="529.5" y2="139.32" stroke="#fff" stroke-width="0.55" opacity="0.8"/><line x1="395.5" y1="129.16" x2="529.5" y2="129.16" stroke="#fff" stroke-width="0.55" opacity="0.8"/><line x1="395.5" y1="119.00" x2="529.5" y2="119.00" stroke="#fff" stroke-width="0.55" opacity="0.8"/><line x1="395.5" y1="108.84" x2="529.5" y2="108.84" stroke="#fff" stroke-width="0.55" opacity="0.8"/><line x1="395.5" y1="98.68" x2="529.5" y2="98.68" stroke="#fff" stroke-width="0.55" opacity="0.8"/><line x1="399.90" y1="90.7" x2="399.90" y2="147.7" stroke="#fff" stroke-width="1.1"/><line x1="437.10" y1="90.7" x2="437.10" y2="147.7" stroke="#fff" stroke-width="1.1"/><line x1="474.30" y1="90.7" x2="474.30" y2="147.7" stroke="#fff" stroke-width="1.1"/><line x1="511.50" y1="90.7" x2="511.50" y2="147.7" stroke="#fff" stroke-width="1.1"/><line x1="395.5" y1="144.40" x2="529.5" y2="144.40" stroke="#fff" stroke-width="1.1"/><line x1="395.5" y1="134.24" x2="529.5" y2="134.24" stroke="#fff" stroke-width="1.1"/><line x1="395.5" y1="124.08" x2="529.5" y2="124.08" stroke="#fff" stroke-width="1.1"/><line x1="395.5" y1="113.92" x2="529.5" y2="113.92" stroke="#fff" stroke-width="1.1"/><line x1="395.5" y1="103.76" x2="529.5" y2="103.76" stroke="#fff" stroke-width="1.1"/><line x1="395.5" y1="93.60" x2="529.5" y2="93.60" stroke="#fff" stroke-width="1.1"/>
<polygon points="401.40,120.70 405.47,120.48 409.53,120.25 413.60,120.03 417.67,119.80 421.73,119.57 425.80,119.34 429.87,119.11 433.93,118.88 438.00,118.64 442.07,118.40 446.13,118.15 450.20,117.90 454.27,117.64 458.33,117.37 462.40,117.10 466.47,116.80 470.53,116.50 474.60,116.17 478.67,115.81 482.73,115.42 486.80,114.98 490.87,114.48 494.93,113.92 499.00,113.30 503.07,112.62 507.13,111.88 511.20,111.10 515.27,110.28 519.33,109.43 523.40,108.55 523.40,115.45 519.33,115.75 515.27,116.08 511.20,116.44 507.13,116.84 503.07,117.28 499.00,117.78 494.93,118.34 490.87,118.96 486.80,119.64 482.73,120.38 478.67,121.17 474.60,121.99 470.53,122.84 466.47,123.72 462.40,124.60 458.33,125.51 454.27,126.42 450.20,127.34 446.13,128.27 442.07,129.20 438.00,130.14 433.93,131.08 429.87,132.03 425.80,132.98 421.73,133.93 417.67,134.88 413.60,135.83 409.53,136.79 405.47,137.74 401.40,138.70" fill="#999999" fill-opacity="0.43"/>
<g fill="#000"><circle cx="401.4" cy="110.1" r="1.35"/><circle cx="445.1" cy="122.1" r="1.35"/><circle cx="454.2" cy="126.1" r="1.35"/><circle cx="460.2" cy="134.1" r="1.35"/><circle cx="462.2" cy="122.5" r="1.35"/><circle cx="475" cy="93.8" r="1.35"/><circle cx="475" cy="101.8" r="1.35"/><circle cx="471.2" cy="106" r="1.35"/><circle cx="484.3" cy="108" r="1.35"/><circle cx="478.5" cy="114.1" r="1.35"/><circle cx="491.9" cy="103.8" r="1.35"/><circle cx="495.6" cy="106" r="1.35"/><circle cx="499.1" cy="101.8" r="1.35"/><circle cx="495.6" cy="112.1" r="1.35"/><circle cx="495.6" cy="118.1" r="1.35"/><circle cx="507" cy="95.7" r="1.35"/><circle cx="510.9" cy="99.8" r="1.35"/><circle cx="506.7" cy="101.9" r="1.35"/><circle cx="508.8" cy="103.7" r="1.35"/><circle cx="507" cy="105.5" r="1.35"/><circle cx="500.3" cy="101.9" r="1.35"/><circle cx="501.6" cy="107.9" r="1.35"/><circle cx="501.6" cy="111.8" r="1.35"/><circle cx="506.7" cy="106.1" r="1.35"/><circle cx="507" cy="109.2" r="1.35"/><circle cx="507" cy="110.7" r="1.35"/><circle cx="501.1" cy="126.4" r="1.35"/><circle cx="505" cy="128.4" r="1.35"/><circle cx="498.5" cy="132.6" r="1.35"/><circle cx="506.8" cy="134.4" r="1.35"/><circle cx="510.4" cy="128.4" r="1.35"/><circle cx="510.4" cy="130.5" r="1.35"/><circle cx="512.5" cy="128.4" r="1.35"/><circle cx="514.6" cy="124.3" r="1.35"/><circle cx="509.4" cy="122.2" r="1.35"/><circle cx="508.9" cy="144.2" r="1.35"/><circle cx="516.1" cy="144.2" r="1.35"/><circle cx="519.7" cy="144.2" r="1.35"/><circle cx="523.4" cy="144.2" r="1.35"/><circle cx="473" cy="120.6" r="1.35"/><circle cx="485.9" cy="118.6" r="1.35"/><circle cx="476.9" cy="126.5" r="1.35"/><circle cx="486.2" cy="124.2" r="1.35"/><circle cx="465.5" cy="128.4" r="1.35"/><circle cx="497.6" cy="132.5" r="1.35"/><circle cx="469.4" cy="144.7" r="1.35"/><circle cx="476.9" cy="144.7" r="1.35"/><circle cx="519.9" cy="93.6" r="1.35"/><circle cx="518.1" cy="97.8" r="1.35"/><line x1="457.6" y1="110" x2="457.6" y2="112.1" stroke="#000" stroke-width="2.7" stroke-linecap="round"/><line x1="523.8" y1="93.6" x2="523.8" y2="135" stroke="#000" stroke-width="2.7" stroke-linecap="round"/><line x1="521.8" y1="95.2" x2="521.8" y2="135" stroke="#000" stroke-width="2.7" stroke-linecap="round"/><line x1="519.8" y1="101" x2="519.8" y2="115" stroke="#000" stroke-width="2.7" stroke-linecap="round"/><line x1="519.8" y1="119.5" x2="519.8" y2="134.5" stroke="#000" stroke-width="2.7" stroke-linecap="round"/><line x1="517.9" y1="103.5" x2="517.9" y2="106" stroke="#000" stroke-width="2.7" stroke-linecap="round"/><line x1="517.9" y1="112" x2="517.9" y2="115" stroke="#000" stroke-width="2.7" stroke-linecap="round"/><line x1="517.9" y1="119.5" x2="517.9" y2="124" stroke="#000" stroke-width="2.7" stroke-linecap="round"/><line x1="516.0" y1="100.5" x2="516.0" y2="106" stroke="#000" stroke-width="2.7" stroke-linecap="round"/><line x1="516" y1="112.5" x2="516" y2="114.5" stroke="#000" stroke-width="2.7" stroke-linecap="round"/><line x1="516.0" y1="119.5" x2="516.0" y2="124" stroke="#000" stroke-width="2.7" stroke-linecap="round"/><line x1="514.5" y1="102" x2="514.5" y2="106" stroke="#000" stroke-width="2.7" stroke-linecap="round"/><line x1="514.1" y1="113" x2="514.1" y2="123" stroke="#000" stroke-width="2.7" stroke-linecap="round"/><line x1="512.2" y1="108" x2="512.2" y2="109" stroke="#000" stroke-width="2.7" stroke-linecap="round"/><line x1="512.2" y1="114.5" x2="512.2" y2="122" stroke="#000" stroke-width="2.7" stroke-linecap="round"/><line x1="510.3" y1="114.5" x2="510.3" y2="121" stroke="#000" stroke-width="2.7" stroke-linecap="round"/><circle cx="504.50" cy="115.9" r="1.35"/><circle cx="506.75" cy="115.9" r="1.35"/><circle cx="509.00" cy="115.9" r="1.35"/></g>
<g fill="#EBEBEB"><circle cx="517.1" cy="101.9" r="0.9"/><circle cx="518.6" cy="99.8" r="0.9"/><circle cx="521.7" cy="117.5" r="0.9"/><circle cx="520.3" cy="130.5" r="0.9"/></g>
<line x1="401.4" y1="129.7" x2="523.4" y2="112.0" stroke="#1F40F2" stroke-width="2.0"/>
</g>
<text transform="translate(408.70,141.50) scale(0.945,1)" class="rs" text-anchor="start">r = 0.19*</text>
<clipPath id="c20"><rect x="99.8" y="160.3" width="133.70" height="55.70"/></clipPath>
<rect x="99.8" y="160.3" width="133.70" height="55.70" fill="#EBEBEB"/>
<g clip-path="url(#c20)"><line x1="103.99" y1="160.3" x2="103.99" y2="216.0" stroke="#fff" stroke-width="0.55" opacity="0.8"/><line x1="125.81" y1="160.3" x2="125.81" y2="216.0" stroke="#fff" stroke-width="0.55" opacity="0.8"/><line x1="147.64" y1="160.3" x2="147.64" y2="216.0" stroke="#fff" stroke-width="0.55" opacity="0.8"/><line x1="169.46" y1="160.3" x2="169.46" y2="216.0" stroke="#fff" stroke-width="0.55" opacity="0.8"/><line x1="191.29" y1="160.3" x2="191.29" y2="216.0" stroke="#fff" stroke-width="0.55" opacity="0.8"/><line x1="213.11" y1="160.3" x2="213.11" y2="216.0" stroke="#fff" stroke-width="0.55" opacity="0.8"/><line x1="99.8" y1="207.70" x2="233.5" y2="207.70" stroke="#fff" stroke-width="0.55" opacity="0.8"/><line x1="99.8" y1="194.90" x2="233.5" y2="194.90" stroke="#fff" stroke-width="0.55" opacity="0.8"/><line x1="99.8" y1="182.10" x2="233.5" y2="182.10" stroke="#fff" stroke-width="0.55" opacity="0.8"/><line x1="99.8" y1="169.30" x2="233.5" y2="169.30" stroke="#fff" stroke-width="0.55" opacity="0.8"/><line x1="114.90" y1="160.3" x2="114.90" y2="216.0" stroke="#fff" stroke-width="1.1"/><line x1="136.72" y1="160.3" x2="136.72" y2="216.0" stroke="#fff" stroke-width="1.1"/><line x1="158.55" y1="160.3" x2="158.55" y2="216.0" stroke="#fff" stroke-width="1.1"/><line x1="180.38" y1="160.3" x2="180.38" y2="216.0" stroke="#fff" stroke-width="1.1"/><line x1="202.20" y1="160.3" x2="202.20" y2="216.0" stroke="#fff" stroke-width="1.1"/><line x1="224.03" y1="160.3" x2="224.03" y2="216.0" stroke="#fff" stroke-width="1.1"/><line x1="99.8" y1="214.10" x2="233.5" y2="214.10" stroke="#fff" stroke-width="1.1"/><line x1="99.8" y1="201.30" x2="233.5" y2="201.30" stroke="#fff" stroke-width="1.1"/><line x1="99.8" y1="188.50" x2="233.5" y2="188.50" stroke="#fff" stroke-width="1.1"/><line x1="99.8" y1="175.70" x2="233.5" y2="175.70" stroke="#fff" stroke-width="1.1"/><line x1="99.8" y1="162.90" x2="233.5" y2="162.90" stroke="#fff" stroke-width="1.1"/>
<polygon points="106.00,186.30 110.08,186.24 114.15,186.19 118.23,186.13 122.31,186.07 126.38,186.01 130.46,185.95 134.54,185.88 138.61,185.82 142.69,185.75 146.77,185.69 150.84,185.61 154.92,185.54 159.00,185.46 163.07,185.38 167.15,185.30 171.23,185.20 175.30,185.10 179.38,184.98 183.46,184.84 187.53,184.68 191.61,184.49 195.69,184.25 199.76,183.96 203.84,183.59 207.92,183.14 211.99,182.62 216.07,182.03 220.15,181.38 224.22,180.70 228.30,179.99 228.30,185.61 224.22,185.76 220.15,185.94 216.07,186.15 211.99,186.42 207.92,186.76 203.84,187.17 199.76,187.66 195.69,188.23 191.61,188.85 187.53,189.52 183.46,190.22 179.38,190.94 175.30,191.68 171.23,192.44 167.15,193.20 163.07,193.98 159.00,194.76 154.92,195.54 150.84,196.33 146.77,197.11 142.69,197.91 138.61,198.70 134.54,199.50 130.46,200.29 126.38,201.09 122.31,201.89 118.23,202.69 114.15,203.49 110.08,204.30 106.00,205.10" fill="#999999" fill-opacity="0.43"/>
<g fill="#000"><circle cx="106" cy="175.6" r="1.35"/><circle cx="159.2" cy="200.7" r="1.35"/><circle cx="163.4" cy="203.8" r="1.35"/><circle cx="186" cy="162.9" r="1.35"/><circle cx="190.5" cy="162.9" r="1.35"/><circle cx="206" cy="170.7" r="1.35"/><circle cx="194.6" cy="173.1" r="1.35"/><circle cx="197.2" cy="173.1" r="1.35"/><circle cx="177.1" cy="175.8" r="1.35"/><circle cx="210.3" cy="175.5" r="1.35"/><circle cx="213" cy="175.5" r="1.35"/><circle cx="208.1" cy="178.2" r="1.35"/><circle cx="172.7" cy="180.6" r="1.35"/><circle cx="192.6" cy="180.6" r="1.35"/><circle cx="170.2" cy="183.3" r="1.35"/><circle cx="175.1" cy="183.3" r="1.35"/><circle cx="181" cy="183.3" r="1.35"/><circle cx="183.7" cy="183.3" r="1.35"/><circle cx="186.5" cy="183.3" r="1.35"/><circle cx="183.6" cy="185.5" r="1.35"/><circle cx="198.7" cy="188.4" r="1.35"/><circle cx="203.8" cy="188.4" r="1.35"/><circle cx="197.1" cy="191" r="1.35"/><circle cx="179.2" cy="193.5" r="1.35"/><circle cx="195" cy="195.8" r="1.35"/><circle cx="195" cy="198.4" r="1.35"/><circle cx="201.4" cy="198.6" r="1.35"/><circle cx="206.1" cy="193.5" r="1.35"/><circle cx="208.1" cy="196.1" r="1.35"/><circle cx="212.8" cy="193.5" r="1.35"/><circle cx="212.8" cy="196.1" r="1.35"/><circle cx="183.8" cy="203.8" r="1.35"/><circle cx="212.8" cy="203.8" r="1.35"/><circle cx="175" cy="214" r="1.35"/><circle cx="181.5" cy="214" r="1.35"/><circle cx="210.4" cy="213.8" r="1.35"/><circle cx="217.3" cy="162.7" r="1.35"/><circle cx="221.4" cy="165.5" r="1.35"/><circle cx="221" cy="177.7" r="1.35"/><circle cx="221" cy="179.7" r="1.35"/><circle cx="217.5" cy="186" r="1.35"/><circle cx="219.5" cy="188.2" r="1.35"/><circle cx="221.6" cy="190.7" r="1.35"/><circle cx="221.6" cy="196.4" r="1.35"/><circle cx="216.9" cy="196.1" r="1.35"/><circle cx="223.7" cy="198.4" r="1.35"/><circle cx="223.7" cy="203.8" r="1.35"/><circle cx="226.3" cy="203.8" r="1.35"/><circle cx="225.7" cy="213.7" r="1.35"/><circle cx="228.8" cy="213.7" r="1.35"/><circle cx="224" cy="162.9" r="1.35"/><circle cx="226.2" cy="162.9" r="1.35"/><circle cx="228.4" cy="162.9" r="1.35"/><circle cx="224" cy="167.80" r="1.38"/><circle cx="224" cy="170.15" r="1.38"/><circle cx="224" cy="172.51" r="1.38"/><circle cx="224" cy="174.86" r="1.38"/><circle cx="224" cy="177.22" r="1.38"/><circle cx="224" cy="179.57" r="1.38"/><circle cx="224" cy="181.92" r="1.38"/><circle cx="224" cy="184.28" r="1.38"/><circle cx="224" cy="186.63" r="1.38"/><circle cx="224" cy="188.98" r="1.38"/><circle cx="224" cy="191.34" r="1.38"/><circle cx="224" cy="193.69" r="1.38"/><circle cx="224" cy="196.05" r="1.38"/><circle cx="224" cy="198.40" r="1.38"/><circle cx="226.2" cy="167.80" r="1.38"/><circle cx="226.2" cy="170.15" r="1.38"/><circle cx="226.2" cy="172.51" r="1.38"/><circle cx="226.2" cy="174.86" r="1.38"/><circle cx="226.2" cy="177.22" r="1.38"/><circle cx="226.2" cy="179.57" r="1.38"/><circle cx="226.2" cy="181.92" r="1.38"/><circle cx="226.2" cy="184.28" r="1.38"/><circle cx="226.2" cy="186.63" r="1.38"/><circle cx="226.2" cy="188.98" r="1.38"/><circle cx="226.2" cy="191.34" r="1.38"/><circle cx="226.2" cy="193.69" r="1.38"/><circle cx="226.2" cy="196.05" r="1.38"/><circle cx="226.2" cy="198.40" r="1.38"/><circle cx="228.4" cy="167.80" r="1.38"/><circle cx="228.4" cy="170.05" r="1.38"/><circle cx="228.4" cy="172.29" r="1.38"/><circle cx="228.4" cy="174.54" r="1.38"/><circle cx="228.4" cy="176.79" r="1.38"/><circle cx="228.4" cy="179.03" r="1.38"/><circle cx="228.4" cy="181.28" r="1.38"/><circle cx="228.4" cy="183.53" r="1.38"/><circle cx="228.4" cy="185.77" r="1.38"/><circle cx="228.4" cy="188.02" r="1.38"/><circle cx="228.4" cy="190.27" r="1.38"/><circle cx="228.4" cy="192.51" r="1.38"/><circle cx="228.4" cy="194.76" r="1.38"/><circle cx="228.4" cy="197.01" r="1.38"/><circle cx="228.4" cy="199.25" r="1.38"/><circle cx="228.4" cy="201.50" r="1.38"/><circle cx="213.50" cy="180.9" r="1.35"/><circle cx="215.62" cy="180.9" r="1.35"/><circle cx="217.75" cy="180.9" r="1.35"/><circle cx="219.88" cy="180.9" r="1.35"/><circle cx="222.00" cy="180.9" r="1.35"/><circle cx="213.50" cy="182.4" r="1.35"/><circle cx="215.62" cy="182.4" r="1.35"/><circle cx="217.75" cy="182.4" r="1.35"/><circle cx="219.88" cy="182.4" r="1.35"/><circle cx="222.00" cy="182.4" r="1.35"/></g>
<line x1="106" y1="195.7" x2="228.3" y2="182.8" stroke="#1F40F2" stroke-width="2.0"/>
</g>
<text transform="translate(113.60,210.40) scale(0.956,1)" class="rn" text-anchor="start">r = 0.09</text>
<clipPath id="c21"><rect x="248.0" y="160.3" width="134.00" height="55.70"/></clipPath>
<rect x="248.0" y="160.3" width="134.00" height="55.70" fill="#EBEBEB"/>
<g clip-path="url(#c21)"><line x1="250.62" y1="160.3" x2="250.62" y2="216.0" stroke="#fff" stroke-width="0.55" opacity="0.8"/><line x1="278.17" y1="160.3" x2="278.17" y2="216.0" stroke="#fff" stroke-width="0.55" opacity="0.8"/><line x1="305.72" y1="160.3" x2="305.72" y2="216.0" stroke="#fff" stroke-width="0.55" opacity="0.8"/><line x1="333.27" y1="160.3" x2="333.27" y2="216.0" stroke="#fff" stroke-width="0.55" opacity="0.8"/><line x1="360.82" y1="160.3" x2="360.82" y2="216.0" stroke="#fff" stroke-width="0.55" opacity="0.8"/><line x1="248.0" y1="207.70" x2="382.0" y2="207.70" stroke="#fff" stroke-width="0.55" opacity="0.8"/><line x1="248.0" y1="194.90" x2="382.0" y2="194.90" stroke="#fff" stroke-width="0.55" opacity="0.8"/><line x1="248.0" y1="182.10" x2="382.0" y2="182.10" stroke="#fff" stroke-width="0.55" opacity="0.8"/><line x1="248.0" y1="169.30" x2="382.0" y2="169.30" stroke="#fff" stroke-width="0.55" opacity="0.8"/><line x1="264.40" y1="160.3" x2="264.40" y2="216.0" stroke="#fff" stroke-width="1.1"/><line x1="291.95" y1="160.3" x2="291.95" y2="216.0" stroke="#fff" stroke-width="1.1"/><line x1="319.50" y1="160.3" x2="319.50" y2="216.0" stroke="#fff" stroke-width="1.1"/><line x1="347.05" y1="160.3" x2="347.05" y2="216.0" stroke="#fff" stroke-width="1.1"/><line x1="374.60" y1="160.3" x2="374.60" y2="216.0" stroke="#fff" stroke-width="1.1"/><line x1="248.0" y1="214.10" x2="382.0" y2="214.10" stroke="#fff" stroke-width="1.1"/><line x1="248.0" y1="201.30" x2="382.0" y2="201.30" stroke="#fff" stroke-width="1.1"/><line x1="248.0" y1="188.50" x2="382.0" y2="188.50" stroke="#fff" stroke-width="1.1"/><line x1="248.0" y1="175.70" x2="382.0" y2="175.70" stroke="#fff" stroke-width="1.1"/><line x1="248.0" y1="162.90" x2="382.0" y2="162.90" stroke="#fff" stroke-width="1.1"/>
<polygon points="254.00,185.70 258.05,185.65 262.09,185.60 266.14,185.55 270.19,185.50 274.23,185.44 278.28,185.38 282.33,185.32 286.37,185.25 290.42,185.18 294.47,185.10 298.51,185.02 302.56,184.93 306.61,184.83 310.65,184.72 314.70,184.59 318.75,184.45 322.79,184.29 326.84,184.11 330.89,183.89 334.93,183.65 338.98,183.36 343.03,183.04 347.07,182.66 351.12,182.24 355.17,181.77 359.21,181.25 363.26,180.69 367.31,180.10 371.35,179.48 375.40,178.83 375.40,186.77 371.35,186.94 367.31,187.14 363.26,187.37 359.21,187.63 355.17,187.93 351.12,188.28 347.07,188.68 343.03,189.12 338.98,189.62 334.93,190.15 330.89,190.73 326.84,191.33 322.79,191.97 318.75,192.63 314.70,193.31 310.65,194.00 306.61,194.71 302.56,195.43 298.51,196.16 294.47,196.90 290.42,197.64 286.37,198.39 282.33,199.14 278.28,199.90 274.23,200.66 270.19,201.42 266.14,202.19 262.09,202.96 258.05,203.73 254.00,204.50" fill="#999999" fill-opacity="0.43"/>
<g fill="#000"><circle cx="253.4" cy="185.7" r="1.35"/><circle cx="314.5" cy="183.5" r="1.35"/><circle cx="337.2" cy="162.9" r="1.35"/><circle cx="337.2" cy="170.7" r="1.35"/><circle cx="320.4" cy="175.5" r="1.35"/><circle cx="348.4" cy="175.5" r="1.35"/><circle cx="320.4" cy="180.6" r="1.35"/><circle cx="326" cy="180.6" r="1.35"/><circle cx="337.2" cy="183.3" r="1.35"/><circle cx="342.8" cy="183.3" r="1.35"/><circle cx="325.9" cy="193.5" r="1.35"/><circle cx="348.1" cy="191" r="1.35"/><circle cx="348.1" cy="203.8" r="1.35"/><circle cx="353.8" cy="196.1" r="1.35"/><circle cx="348.1" cy="213.7" r="1.35"/><circle cx="353.8" cy="213.7" r="1.35"/><circle cx="359.5" cy="162.7" r="1.35"/><circle cx="359.5" cy="173.3" r="1.35"/><circle cx="365.2" cy="162.7" r="1.35"/><circle cx="365.2" cy="170.6" r="1.35"/><circle cx="370.7" cy="167.8" r="1.35"/><circle cx="359.5" cy="196.1" r="1.35"/><circle cx="359.5" cy="201.3" r="1.35"/><circle cx="365.2" cy="193.5" r="1.35"/><circle cx="365.2" cy="198.6" r="1.35"/><circle cx="365.2" cy="203.8" r="1.35"/><circle cx="370.7" cy="203.8" r="1.35"/><circle cx="359.5" cy="213.7" r="1.35"/><circle cx="365.2" cy="213.7" r="1.35"/><circle cx="370.7" cy="213.7" r="1.35"/><circle cx="376.2" cy="213.7" r="1.35"/><circle cx="348.4" cy="180.40" r="1.38"/><circle cx="348.4" cy="183.50" r="1.38"/><circle cx="353.8" cy="180.40" r="1.38"/><circle cx="353.8" cy="183.03" r="1.38"/><circle cx="353.8" cy="185.67" r="1.38"/><circle cx="353.8" cy="188.30" r="1.38"/><circle cx="348.1" cy="195.80" r="1.38"/><circle cx="348.1" cy="198.40" r="1.38"/><circle cx="359.5" cy="182.80" r="1.38"/><circle cx="359.5" cy="185.55" r="1.38"/><circle cx="359.5" cy="188.30" r="1.38"/><circle cx="365.2" cy="175.60" r="1.38"/><circle cx="365.2" cy="178.20" r="1.38"/><circle cx="365.2" cy="182.30" r="1.38"/><circle cx="365.2" cy="184.15" r="1.38"/><circle cx="365.2" cy="186.00" r="1.38"/><circle cx="370.7" cy="172.50" r="1.38"/><circle cx="370.7" cy="174.89" r="1.38"/><circle cx="370.7" cy="177.28" r="1.38"/><circle cx="370.7" cy="179.67" r="1.38"/><circle cx="370.7" cy="182.06" r="1.38"/><circle cx="370.7" cy="184.45" r="1.38"/><circle cx="370.7" cy="186.84" r="1.38"/><circle cx="370.7" cy="189.23" r="1.38"/><circle cx="370.7" cy="191.62" r="1.38"/><circle cx="370.7" cy="194.01" r="1.38"/><circle cx="370.7" cy="196.40" r="1.38"/><circle cx="376.2" cy="163.20" r="1.38"/><circle cx="376.2" cy="165.47" r="1.38"/><circle cx="376.2" cy="167.74" r="1.38"/><circle cx="376.2" cy="170.02" r="1.38"/><circle cx="376.2" cy="172.29" r="1.38"/><circle cx="376.2" cy="174.56" r="1.38"/><circle cx="376.2" cy="176.83" r="1.38"/><circle cx="376.2" cy="179.11" r="1.38"/><circle cx="376.2" cy="181.38" r="1.38"/><circle cx="376.2" cy="183.65" r="1.38"/><circle cx="376.2" cy="185.92" r="1.38"/><circle cx="376.2" cy="188.19" r="1.38"/><circle cx="376.2" cy="190.47" r="1.38"/><circle cx="376.2" cy="192.74" r="1.38"/><circle cx="376.2" cy="195.01" r="1.38"/><circle cx="376.2" cy="197.28" r="1.38"/><circle cx="376.2" cy="199.56" r="1.38"/><circle cx="376.2" cy="201.83" r="1.38"/><circle cx="376.2" cy="204.10" r="1.38"/></g>
<line x1="254" y1="195.1" x2="375.4" y2="182.8" stroke="#1F40F2" stroke-width="2.0"/>
</g>
<text transform="translate(260.10,210.10) scale(0.945,1)" class="rs" text-anchor="start">r = 0.13*</text>
<clipPath id="c22"><rect x="395.5" y="160.3" width="134.00" height="55.70"/></clipPath>
<rect x="395.5" y="160.3" width="134.00" height="55.70" fill="#EBEBEB"/>
<g clip-path="url(#c22)"><line x1="418.50" y1="160.3" x2="418.50" y2="216.0" stroke="#fff" stroke-width="0.55" opacity="0.8"/><line x1="455.70" y1="160.3" x2="455.70" y2="216.0" stroke="#fff" stroke-width="0.55" opacity="0.8"/><line x1="492.90" y1="160.3" x2="492.90" y2="216.0" stroke="#fff" stroke-width="0.55" opacity="0.8"/><line x1="395.5" y1="207.70" x2="529.5" y2="207.70" stroke="#fff" stroke-width="0.55" opacity="0.8"/><line x1="395.5" y1="194.90" x2="529.5" y2="194.90" stroke="#fff" stroke-width="0.55" opacity="0.8"/><line x1="395.5" y1="182.10" x2="529.5" y2="182.10" stroke="#fff" stroke-width="0.55" opacity="0.8"/><line x1="395.5" y1="169.30" x2="529.5" y2="169.30" stroke="#fff" stroke-width="0.55" opacity="0.8"/><line x1="399.90" y1="160.3" x2="399.90" y2="216.0" stroke="#fff" stroke-width="1.1"/><line x1="437.10" y1="160.3" x2="437.10" y2="216.0" stroke="#fff" stroke-width="1.1"/><line x1="474.30" y1="160.3" x2="474.30" y2="216.0" stroke="#fff" stroke-width="1.1"/><line x1="511.50" y1="160.3" x2="511.50" y2="216.0" stroke="#fff" stroke-width="1.1"/><line x1="395.5" y1="214.10" x2="529.5" y2="214.10" stroke="#fff" stroke-width="1.1"/><line x1="395.5" y1="201.30" x2="529.5" y2="201.30" stroke="#fff" stroke-width="1.1"/><line x1="395.5" y1="188.50" x2="529.5" y2="188.50" stroke="#fff" stroke-width="1.1"/><line x1="395.5" y1="175.70" x2="529.5" y2="175.70" stroke="#fff" stroke-width="1.1"/><line x1="395.5" y1="162.90" x2="529.5" y2="162.90" stroke="#fff" stroke-width="1.1"/>
<polygon points="401.40,187.10 405.47,187.03 409.53,186.97 413.60,186.90 417.67,186.83 421.73,186.76 425.80,186.69 429.87,186.61 433.93,186.53 438.00,186.45 442.07,186.37 446.13,186.28 450.20,186.19 454.27,186.09 458.33,185.98 462.40,185.86 466.47,185.73 470.53,185.59 474.60,185.42 478.67,185.22 482.73,184.99 486.80,184.72 490.87,184.39 494.93,184.01 499.00,183.56 503.07,183.06 507.13,182.50 511.20,181.90 515.27,181.26 519.33,180.59 523.40,179.91 523.40,186.49 519.33,186.64 515.27,186.81 511.20,187.00 507.13,187.23 503.07,187.51 499.00,187.84 494.93,188.22 490.87,188.67 486.80,189.18 482.73,189.74 478.67,190.34 474.60,190.98 470.53,191.65 466.47,192.33 462.40,193.04 458.33,193.75 454.27,194.48 450.20,195.21 446.13,195.95 442.07,196.70 438.00,197.45 433.93,198.20 429.87,198.96 425.80,199.71 421.73,200.47 417.67,201.24 413.60,202.00 409.53,202.77 405.47,203.53 401.40,204.30" fill="#999999" fill-opacity="0.43"/>
<g fill="#000"><circle cx="401.4" cy="175.6" r="1.35"/><circle cx="445.1" cy="185.7" r="1.35"/><circle cx="454.3" cy="191.1" r="1.35"/><circle cx="460" cy="200.8" r="1.35"/><circle cx="462" cy="203.8" r="1.35"/><circle cx="445.1" cy="203.7" r="1.35"/><circle cx="475" cy="162.8" r="1.35"/><circle cx="491.9" cy="162.8" r="1.35"/><circle cx="495.6" cy="173" r="1.35"/><circle cx="471.2" cy="175.8" r="1.35"/><circle cx="475" cy="180.9" r="1.35"/><circle cx="473" cy="183.3" r="1.35"/><circle cx="477" cy="183.3" r="1.35"/><circle cx="479" cy="183.3" r="1.35"/><circle cx="484.3" cy="183.3" r="1.35"/><circle cx="499.3" cy="188" r="1.35"/><circle cx="518.2" cy="165.5" r="1.35"/><circle cx="501.1" cy="170.6" r="1.35"/><circle cx="508.9" cy="170.6" r="1.35"/><circle cx="516.4" cy="173.3" r="1.35"/><circle cx="505" cy="193.5" r="1.35"/><circle cx="510.6" cy="193.5" r="1.35"/><circle cx="501.6" cy="196.1" r="1.35"/><circle cx="498.5" cy="198.6" r="1.35"/><circle cx="465.5" cy="193.5" r="1.35"/><circle cx="495.6" cy="191" r="1.35"/><circle cx="497.6" cy="198.6" r="1.35"/><circle cx="469.4" cy="213.7" r="1.35"/><circle cx="476.9" cy="213.7" r="1.35"/><circle cx="508.9" cy="213.7" r="1.35"/><circle cx="516.1" cy="213.7" r="1.35"/><circle cx="519.7" cy="213.7" r="1.35"/><circle cx="523.4" cy="213.7" r="1.35"/><circle cx="457.6" cy="180.50" r="1.38"/><circle cx="457.6" cy="183.70" r="1.38"/><circle cx="486.2" cy="195.80" r="1.38"/><circle cx="486.2" cy="198.40" r="1.38"/><circle cx="507.1" cy="175.60" r="1.38"/><circle cx="507.1" cy="178.70" r="1.38"/><circle cx="523.6" cy="167.50" r="1.38"/><circle cx="523.6" cy="169.73" r="1.38"/><circle cx="523.6" cy="171.97" r="1.38"/><circle cx="523.6" cy="174.20" r="1.38"/><circle cx="523.6" cy="176.43" r="1.38"/><circle cx="523.6" cy="178.67" r="1.38"/><circle cx="523.6" cy="180.90" r="1.38"/><circle cx="523.6" cy="183.13" r="1.38"/><circle cx="523.6" cy="185.37" r="1.38"/><circle cx="523.6" cy="187.60" r="1.38"/><circle cx="523.6" cy="189.83" r="1.38"/><circle cx="523.6" cy="192.07" r="1.38"/><circle cx="523.6" cy="194.30" r="1.38"/><circle cx="523.6" cy="196.53" r="1.38"/><circle cx="523.6" cy="198.77" r="1.38"/><circle cx="523.6" cy="201.00" r="1.38"/><circle cx="521.7" cy="167.50" r="1.38"/><circle cx="521.7" cy="169.75" r="1.38"/><circle cx="521.7" cy="172.00" r="1.38"/><circle cx="521.7" cy="174.25" r="1.38"/><circle cx="521.7" cy="176.50" r="1.38"/><circle cx="521.7" cy="178.75" r="1.38"/><circle cx="521.7" cy="181.00" r="1.38"/><circle cx="521.7" cy="183.25" r="1.38"/><circle cx="521.7" cy="185.50" r="1.38"/><circle cx="521.7" cy="187.75" r="1.38"/><circle cx="521.7" cy="190.00" r="1.38"/><circle cx="521.7" cy="192.25" r="1.38"/><circle cx="521.7" cy="194.50" r="1.38"/><circle cx="521.7" cy="196.75" r="1.38"/><circle cx="521.7" cy="199.00" r="1.38"/><circle cx="519.8" cy="167.50" r="1.38"/><circle cx="519.8" cy="169.75" r="1.38"/><circle cx="519.8" cy="172.00" r="1.38"/><circle cx="519.8" cy="174.25" r="1.38"/><circle cx="519.8" cy="176.50" r="1.38"/><circle cx="519.8" cy="178.75" r="1.38"/><circle cx="519.8" cy="181.00" r="1.38"/><circle cx="519.8" cy="183.25" r="1.38"/><circle cx="519.8" cy="185.50" r="1.38"/><circle cx="519.8" cy="187.75" r="1.38"/><circle cx="519.8" cy="190.00" r="1.38"/><circle cx="519.8" cy="192.25" r="1.38"/><circle cx="519.8" cy="194.50" r="1.38"/><circle cx="519.8" cy="196.75" r="1.38"/><circle cx="519.8" cy="199.00" r="1.38"/><circle cx="517.9" cy="183.00" r="1.38"/><circle cx="517.9" cy="185.10" r="1.38"/><circle cx="517.9" cy="187.20" r="1.38"/><circle cx="517.9" cy="189.30" r="1.38"/><circle cx="517.9" cy="191.40" r="1.38"/><circle cx="517.9" cy="193.50" r="1.38"/><circle cx="516.0" cy="185.00" r="1.38"/><circle cx="516.0" cy="187.33" r="1.38"/><circle cx="516.0" cy="189.67" r="1.38"/><circle cx="516.0" cy="192.00" r="1.38"/><circle cx="514.1" cy="186.00" r="1.38"/><circle cx="514.1" cy="189.00" r="1.38"/><circle cx="513.80" cy="162.9" r="1.35"/><circle cx="515.60" cy="162.9" r="1.35"/><circle cx="517.40" cy="162.9" r="1.35"/><circle cx="519.20" cy="162.9" r="1.35"/><circle cx="521.00" cy="162.9" r="1.35"/><circle cx="522.80" cy="162.9" r="1.35"/><circle cx="524.60" cy="162.9" r="1.35"/><circle cx="510.00" cy="181" r="1.35"/><circle cx="511.70" cy="181" r="1.35"/><circle cx="513.40" cy="181" r="1.35"/><circle cx="515.10" cy="181" r="1.35"/><circle cx="516.80" cy="181" r="1.35"/><circle cx="518.50" cy="181" r="1.35"/><circle cx="503.00" cy="183.5" r="1.35"/><circle cx="504.94" cy="183.5" r="1.35"/><circle cx="506.88" cy="183.5" r="1.35"/><circle cx="508.81" cy="183.5" r="1.35"/><circle cx="510.75" cy="183.5" r="1.35"/><circle cx="512.69" cy="183.5" r="1.35"/><circle cx="514.62" cy="183.5" r="1.35"/><circle cx="516.56" cy="183.5" r="1.35"/><circle cx="518.50" cy="183.5" r="1.35"/><circle cx="506.50" cy="196.1" r="1.35"/><circle cx="508.20" cy="196.1" r="1.35"/><circle cx="509.90" cy="196.1" r="1.35"/><circle cx="511.60" cy="196.1" r="1.35"/><circle cx="513.30" cy="196.1" r="1.35"/><circle cx="515.00" cy="196.1" r="1.35"/><circle cx="507.00" cy="203.8" r="1.35"/><circle cx="509.25" cy="203.8" r="1.35"/><circle cx="511.50" cy="203.8" r="1.35"/><circle cx="520.00" cy="203.8" r="1.35"/><circle cx="522.60" cy="203.8" r="1.35"/></g>
<g fill="#EBEBEB"><circle cx="521.0" cy="168.0" r="0.9"/></g>
<line x1="401.4" y1="195.7" x2="523.4" y2="183.2" stroke="#1F40F2" stroke-width="2.0"/>
</g>
<text transform="translate(408.70,209.90) scale(0.956,1)" class="rn" text-anchor="start">r = 0.08</text>
<clipPath id="c30"><rect x="99.8" y="229.8" width="133.70" height="55.00"/></clipPath>
<rect x="99.8" y="229.8" width="133.70" height="55.00" fill="#EBEBEB"/>
<g clip-path="url(#c30)"><line x1="103.99" y1="229.8" x2="103.99" y2="284.8" stroke="#fff" stroke-width="0.55" opacity="0.8"/><line x1="125.81" y1="229.8" x2="125.81" y2="284.8" stroke="#fff" stroke-width="0.55" opacity="0.8"/><line x1="147.64" y1="229.8" x2="147.64" y2="284.8" stroke="#fff" stroke-width="0.55" opacity="0.8"/><line x1="169.46" y1="229.8" x2="169.46" y2="284.8" stroke="#fff" stroke-width="0.55" opacity="0.8"/><line x1="191.29" y1="229.8" x2="191.29" y2="284.8" stroke="#fff" stroke-width="0.55" opacity="0.8"/><line x1="213.11" y1="229.8" x2="213.11" y2="284.8" stroke="#fff" stroke-width="0.55" opacity="0.8"/><line x1="99.8" y1="274.49" x2="233.5" y2="274.49" stroke="#fff" stroke-width="0.55" opacity="0.8"/><line x1="99.8" y1="259.67" x2="233.5" y2="259.67" stroke="#fff" stroke-width="0.55" opacity="0.8"/><line x1="99.8" y1="244.85" x2="233.5" y2="244.85" stroke="#fff" stroke-width="0.55" opacity="0.8"/><line x1="99.8" y1="230.03" x2="233.5" y2="230.03" stroke="#fff" stroke-width="0.55" opacity="0.8"/><line x1="114.90" y1="229.8" x2="114.90" y2="284.8" stroke="#fff" stroke-width="1.1"/><line x1="136.72" y1="229.8" x2="136.72" y2="284.8" stroke="#fff" stroke-width="1.1"/><line x1="158.55" y1="229.8" x2="158.55" y2="284.8" stroke="#fff" stroke-width="1.1"/><line x1="180.38" y1="229.8" x2="180.38" y2="284.8" stroke="#fff" stroke-width="1.1"/><line x1="202.20" y1="229.8" x2="202.20" y2="284.8" stroke="#fff" stroke-width="1.1"/><line x1="224.03" y1="229.8" x2="224.03" y2="284.8" stroke="#fff" stroke-width="1.1"/><line x1="99.8" y1="281.90" x2="233.5" y2="281.90" stroke="#fff" stroke-width="1.1"/><line x1="99.8" y1="267.08" x2="233.5" y2="267.08" stroke="#fff" stroke-width="1.1"/><line x1="99.8" y1="252.26" x2="233.5" y2="252.26" stroke="#fff" stroke-width="1.1"/><line x1="99.8" y1="237.44" x2="233.5" y2="237.44" stroke="#fff" stroke-width="1.1"/>
<polygon points="106.00,257.20 110.08,256.91 114.15,256.63 118.23,256.34 122.31,256.06 126.38,255.77 130.46,255.48 134.54,255.19 138.61,254.90 142.69,254.61 146.77,254.31 150.84,254.02 154.92,253.72 159.00,253.42 163.07,253.12 167.15,252.82 171.23,252.50 175.30,252.19 179.38,251.86 183.46,251.52 187.53,251.16 191.61,250.78 195.69,250.37 199.76,249.92 203.84,249.42 207.92,248.87 211.99,248.26 216.07,247.60 220.15,246.91 224.22,246.19 228.30,245.46 228.30,249.34 224.22,249.69 220.15,250.06 216.07,250.46 211.99,250.89 207.92,251.37 203.84,251.90 199.76,252.48 195.69,253.12 191.61,253.80 187.53,254.50 183.46,255.24 179.38,255.98 175.30,256.74 171.23,257.51 167.15,258.28 163.07,259.06 159.00,259.85 154.92,260.64 150.84,261.43 146.77,262.22 142.69,263.01 138.61,263.81 134.54,264.60 130.46,265.40 126.38,266.20 122.31,267.00 118.23,267.80 114.15,268.60 110.08,269.40 106.00,270.20" fill="#999999" fill-opacity="0.43"/>
<g fill="#000"><circle cx="106" cy="244" r="1.35"/><circle cx="157.2" cy="260.1" r="1.35"/><circle cx="163.6" cy="261.6" r="1.35"/><circle cx="186" cy="240" r="1.35"/><circle cx="190.5" cy="239.4" r="1.35"/><circle cx="197.2" cy="240.7" r="1.35"/><circle cx="181.6" cy="243.1" r="1.35"/><circle cx="177.1" cy="244.8" r="1.35"/><circle cx="172.7" cy="246.9" r="1.35"/><circle cx="175.1" cy="249.9" r="1.35"/><circle cx="170.2" cy="251.4" r="1.35"/><circle cx="192.6" cy="243.8" r="1.35"/><circle cx="197.2" cy="243.8" r="1.35"/><circle cx="199.2" cy="245.5" r="1.35"/><circle cx="206.3" cy="242.3" r="1.35"/><circle cx="208.7" cy="240.7" r="1.35"/><circle cx="210.7" cy="243.1" r="1.35"/><circle cx="203.8" cy="248.4" r="1.35"/><circle cx="210.9" cy="247.4" r="1.35"/><circle cx="213" cy="246.9" r="1.35"/><circle cx="186" cy="250.6" r="1.35"/><circle cx="206.3" cy="253" r="1.35"/><circle cx="195.1" cy="255.1" r="1.35"/><circle cx="183.6" cy="257.3" r="1.35"/><circle cx="179.2" cy="261" r="1.35"/><circle cx="183.8" cy="258.5" r="1.35"/><circle cx="183.8" cy="263.1" r="1.35"/><circle cx="195" cy="259.1" r="1.35"/><circle cx="201.4" cy="260.2" r="1.35"/><circle cx="175" cy="267.6" r="1.35"/><circle cx="181.5" cy="276.5" r="1.35"/><circle cx="175" cy="283" r="1.35"/><circle cx="210.5" cy="283" r="1.35"/><circle cx="225.7" cy="283" r="1.35"/><circle cx="228.8" cy="283" r="1.35"/><circle cx="228.2" cy="231.6" r="1.35"/><circle cx="219.2" cy="243.6" r="1.35"/><circle cx="205.7" cy="242.5" r="1.35"/><circle cx="204" cy="247.9" r="1.35"/><circle cx="206" cy="252.9" r="1.35"/><circle cx="215.1" cy="252.6" r="1.35"/><circle cx="217.1" cy="250.8" r="1.35"/><circle cx="217.1" cy="255.2" r="1.35"/><line x1="228.4" y1="231.6" x2="228.4" y2="257" stroke="#000" stroke-width="2.7" stroke-linecap="round"/><line x1="226.4" y1="236.5" x2="226.4" y2="264.5" stroke="#000" stroke-width="2.7" stroke-linecap="round"/><line x1="224.5" y1="236.3" x2="224.5" y2="263" stroke="#000" stroke-width="2.7" stroke-linecap="round"/><line x1="222.6" y1="244.5" x2="222.6" y2="259" stroke="#000" stroke-width="2.7" stroke-linecap="round"/><line x1="220.9" y1="244.5" x2="220.9" y2="252" stroke="#000" stroke-width="2.7" stroke-linecap="round"/><line x1="217.1" y1="237.7" x2="217.1" y2="243" stroke="#000" stroke-width="2.7" stroke-linecap="round"/><line x1="212.7" y1="253.7" x2="212.7" y2="259" stroke="#000" stroke-width="2.7" stroke-linecap="round"/><circle cx="221.50" cy="236.5" r="1.35"/><circle cx="223.40" cy="236.5" r="1.35"/><circle cx="225.30" cy="236.5" r="1.35"/></g>
<line x1="106" y1="263.7" x2="228.3" y2="247.4" stroke="#1F40F2" stroke-width="2.0"/>
</g>
<text transform="translate(113.60,277.60) scale(0.945,1)" class="rs" text-anchor="start">r = 0.26*</text>
<clipPath id="c31"><rect x="248.0" y="229.8" width="134.00" height="55.00"/></clipPath>
<rect x="248.0" y="229.8" width="134.00" height="55.00" fill="#EBEBEB"/>
<g clip-path="url(#c31)"><line x1="250.62" y1="229.8" x2="250.62" y2="284.8" stroke="#fff" stroke-width="0.55" opacity="0.8"/><line x1="278.17" y1="229.8" x2="278.17" y2="284.8" stroke="#fff" stroke-width="0.55" opacity="0.8"/><line x1="305.72" y1="229.8" x2="305.72" y2="284.8" stroke="#fff" stroke-width="0.55" opacity="0.8"/><line x1="333.27" y1="229.8" x2="333.27" y2="284.8" stroke="#fff" stroke-width="0.55" opacity="0.8"/><line x1="360.82" y1="229.8" x2="360.82" y2="284.8" stroke="#fff" stroke-width="0.55" opacity="0.8"/><line x1="248.0" y1="274.49" x2="382.0" y2="274.49" stroke="#fff" stroke-width="0.55" opacity="0.8"/><line x1="248.0" y1="259.67" x2="382.0" y2="259.67" stroke="#fff" stroke-width="0.55" opacity="0.8"/><line x1="248.0" y1="244.85" x2="382.0" y2="244.85" stroke="#fff" stroke-width="0.55" opacity="0.8"/><line x1="248.0" y1="230.03" x2="382.0" y2="230.03" stroke="#fff" stroke-width="0.55" opacity="0.8"/><line x1="264.40" y1="229.8" x2="264.40" y2="284.8" stroke="#fff" stroke-width="1.1"/><line x1="291.95" y1="229.8" x2="291.95" y2="284.8" stroke="#fff" stroke-width="1.1"/><line x1="319.50" y1="229.8" x2="319.50" y2="284.8" stroke="#fff" stroke-width="1.1"/><line x1="347.05" y1="229.8" x2="347.05" y2="284.8" stroke="#fff" stroke-width="1.1"/><line x1="374.60" y1="229.8" x2="374.60" y2="284.8" stroke="#fff" stroke-width="1.1"/><line x1="248.0" y1="281.90" x2="382.0" y2="281.90" stroke="#fff" stroke-width="1.1"/><line x1="248.0" y1="267.08" x2="382.0" y2="267.08" stroke="#fff" stroke-width="1.1"/><line x1="248.0" y1="252.26" x2="382.0" y2="252.26" stroke="#fff" stroke-width="1.1"/><line x1="248.0" y1="237.44" x2="382.0" y2="237.44" stroke="#fff" stroke-width="1.1"/>
<polygon points="254.00,257.60 258.05,257.30 262.09,257.01 266.14,256.71 270.19,256.41 274.23,256.11 278.28,255.80 282.33,255.49 286.37,255.19 290.42,254.87 294.47,254.56 298.51,254.23 302.56,253.91 306.61,253.58 310.65,253.24 314.70,252.89 318.75,252.53 322.79,252.15 326.84,251.76 330.89,251.35 334.93,250.92 338.98,250.46 343.03,249.97 347.07,249.45 351.12,248.89 355.17,248.30 359.21,247.68 363.26,247.03 367.31,246.36 371.35,245.66 375.40,244.95 375.40,250.45 371.35,250.83 367.31,251.23 363.26,251.65 359.21,252.09 355.17,252.57 351.12,253.07 347.07,253.61 343.03,254.18 338.98,254.78 334.93,255.42 330.89,256.08 326.84,256.76 322.79,257.46 318.75,258.18 314.70,258.91 310.65,259.66 306.61,260.41 302.56,261.17 298.51,261.94 294.47,262.71 290.42,263.49 286.37,264.27 282.33,265.05 278.28,265.84 274.23,266.63 270.19,267.42 266.14,268.21 262.09,269.01 258.05,269.80 254.00,270.60" fill="#999999" fill-opacity="0.43"/>
<g fill="#000"><circle cx="253.4" cy="258.1" r="1.35"/><circle cx="314.5" cy="250" r="1.35"/><circle cx="337.2" cy="240.2" r="1.35"/><circle cx="337.2" cy="243.3" r="1.35"/><circle cx="320.4" cy="243.8" r="1.35"/><circle cx="320.4" cy="246.9" r="1.35"/><circle cx="326" cy="245.5" r="1.35"/><circle cx="342.6" cy="255" r="1.35"/><circle cx="353.8" cy="238.7" r="1.35"/><circle cx="353.8" cy="257.5" r="1.35"/><circle cx="337.2" cy="251.4" r="1.35"/><circle cx="325.9" cy="261" r="1.35"/><circle cx="348.1" cy="267.6" r="1.35"/><circle cx="353.8" cy="276.5" r="1.35"/><circle cx="359.5" cy="237.4" r="1.35"/><circle cx="365.2" cy="238.4" r="1.35"/><circle cx="365.2" cy="264.8" r="1.35"/><circle cx="359.5" cy="283" r="1.35"/><circle cx="370.7" cy="283" r="1.35"/><circle cx="376.2" cy="283" r="1.35"/><line x1="303.7" y1="261.5" x2="303.7" y2="263.4" stroke="#000" stroke-width="2.7" stroke-linecap="round"/><line x1="348.3" y1="244.8" x2="348.3" y2="262.2" stroke="#000" stroke-width="2.7" stroke-linecap="round"/><line x1="353.8" y1="245.2" x2="353.8" y2="252.5" stroke="#000" stroke-width="2.7" stroke-linecap="round"/><line x1="359.5" y1="245.6" x2="359.5" y2="252.4" stroke="#000" stroke-width="2.7" stroke-linecap="round"/><line x1="359.5" y1="257" x2="359.5" y2="260.2" stroke="#000" stroke-width="2.7" stroke-linecap="round"/><line x1="365.2" y1="242" x2="365.2" y2="244.1" stroke="#000" stroke-width="2.7" stroke-linecap="round"/><line x1="365.2" y1="248.7" x2="365.2" y2="252.9" stroke="#000" stroke-width="2.7" stroke-linecap="round"/><line x1="365.2" y1="258" x2="365.2" y2="260.2" stroke="#000" stroke-width="2.7" stroke-linecap="round"/><line x1="370.7" y1="240.5" x2="370.7" y2="259.1" stroke="#000" stroke-width="2.7" stroke-linecap="round"/><line x1="376.2" y1="231.7" x2="376.2" y2="259.1" stroke="#000" stroke-width="2.7" stroke-linecap="round"/><line x1="376.2" y1="262.2" x2="376.2" y2="265.4" stroke="#000" stroke-width="2.7" stroke-linecap="round"/></g>
<line x1="254" y1="264.1" x2="375.4" y2="247.7" stroke="#1F40F2" stroke-width="2.0"/>
</g>
<text transform="translate(260.10,277.60) scale(0.945,1)" class="rs" text-anchor="start">r = 0.30*</text>
<clipPath id="c32"><rect x="395.5" y="229.8" width="134.00" height="55.00"/></clipPath>
<rect x="395.5" y="229.8" width="134.00" height="55.00" fill="#EBEBEB"/>
<g clip-path="url(#c32)"><line x1="418.50" y1="229.8" x2="418.50" y2="284.8" stroke="#fff" stroke-width="0.55" opacity="0.8"/><line x1="455.70" y1="229.8" x2="455.70" y2="284.8" stroke="#fff" stroke-width="0.55" opacity="0.8"/><line x1="492.90" y1="229.8" x2="492.90" y2="284.8" stroke="#fff" stroke-width="0.55" opacity="0.8"/><line x1="395.5" y1="274.49" x2="529.5" y2="274.49" stroke="#fff" stroke-width="0.55" opacity="0.8"/><line x1="395.5" y1="259.67" x2="529.5" y2="259.67" stroke="#fff" stroke-width="0.55" opacity="0.8"/><line x1="395.5" y1="244.85" x2="529.5" y2="244.85" stroke="#fff" stroke-width="0.55" opacity="0.8"/><line x1="395.5" y1="230.03" x2="529.5" y2="230.03" stroke="#fff" stroke-width="0.55" opacity="0.8"/><line x1="399.90" y1="229.8" x2="399.90" y2="284.8" stroke="#fff" stroke-width="1.1"/><line x1="437.10" y1="229.8" x2="437.10" y2="284.8" stroke="#fff" stroke-width="1.1"/><line x1="474.30" y1="229.8" x2="474.30" y2="284.8" stroke="#fff" stroke-width="1.1"/><line x1="511.50" y1="229.8" x2="511.50" y2="284.8" stroke="#fff" stroke-width="1.1"/><line x1="395.5" y1="281.90" x2="529.5" y2="281.90" stroke="#fff" stroke-width="1.1"/><line x1="395.5" y1="267.08" x2="529.5" y2="267.08" stroke="#fff" stroke-width="1.1"/><line x1="395.5" y1="252.26" x2="529.5" y2="252.26" stroke="#fff" stroke-width="1.1"/><line x1="395.5" y1="237.44" x2="529.5" y2="237.44" stroke="#fff" stroke-width="1.1"/>
<polygon points="401.40,257.70 405.48,257.40 409.57,257.09 413.65,256.78 417.73,256.48 421.82,256.17 425.90,255.86 429.98,255.55 434.07,255.24 438.15,254.92 442.23,254.61 446.32,254.29 450.40,253.96 454.48,253.63 458.57,253.30 462.65,252.96 466.73,252.61 470.82,252.25 474.90,251.87 478.98,251.47 483.07,251.05 487.15,250.60 491.23,250.11 495.32,249.58 499.40,249.00 503.48,248.39 507.57,247.74 511.65,247.05 515.73,246.35 519.82,245.62 523.90,244.88 523.90,249.52 519.82,249.88 515.73,250.25 511.65,250.65 507.57,251.06 503.48,251.51 499.40,252.00 495.32,252.52 491.23,253.09 487.15,253.70 483.07,254.35 478.98,255.03 474.90,255.73 470.82,256.45 466.73,257.19 462.65,257.94 458.57,258.70 454.48,259.47 450.40,260.24 446.32,261.01 442.23,261.79 438.15,262.58 434.07,263.36 429.98,264.15 425.90,264.94 421.82,265.73 417.73,266.52 413.65,267.32 409.57,268.11 405.48,268.90 401.40,269.70" fill="#999999" fill-opacity="0.43"/>
<g fill="#000"><circle cx="401.4" cy="244" r="1.35"/><circle cx="444.8" cy="261.7" r="1.35"/><circle cx="454.3" cy="260.2" r="1.35"/><circle cx="461.5" cy="263.1" r="1.35"/><circle cx="475" cy="240" r="1.35"/><circle cx="475" cy="244" r="1.35"/><circle cx="471.2" cy="244.8" r="1.35"/><circle cx="484.3" cy="243" r="1.35"/><circle cx="491.9" cy="239.5" r="1.35"/><circle cx="495.6" cy="241" r="1.35"/><circle cx="495.6" cy="244" r="1.35"/><circle cx="473" cy="251.1" r="1.35"/><circle cx="478.5" cy="250.6" r="1.35"/><circle cx="495.6" cy="255.3" r="1.35"/><circle cx="460" cy="257.6" r="1.35"/><circle cx="465.5" cy="261" r="1.35"/><circle cx="469.4" cy="267.6" r="1.35"/><circle cx="476.9" cy="258.9" r="1.35"/><circle cx="486.2" cy="258.9" r="1.35"/><circle cx="497.6" cy="260.2" r="1.35"/><circle cx="476.9" cy="276.5" r="1.35"/><circle cx="476.9" cy="283" r="1.35"/><circle cx="524" cy="231.9" r="1.35"/><circle cx="516.4" cy="237.7" r="1.35"/><circle cx="514.6" cy="241" r="1.35"/><circle cx="501.2" cy="242.4" r="1.35"/><circle cx="498.9" cy="245.6" r="1.35"/><circle cx="501.2" cy="248.2" r="1.35"/><circle cx="504.7" cy="252.6" r="1.35"/><circle cx="503" cy="254.9" r="1.35"/><circle cx="501.2" cy="257.8" r="1.35"/><circle cx="497.7" cy="260.2" r="1.35"/><circle cx="512.9" cy="252.6" r="1.35"/><circle cx="510.6" cy="255.5" r="1.35"/><circle cx="507.1" cy="258.7" r="1.35"/><circle cx="512.9" cy="257.8" r="1.35"/><circle cx="514.6" cy="260.2" r="1.35"/><circle cx="510.6" cy="261.6" r="1.35"/><circle cx="521.9" cy="261.9" r="1.35"/><circle cx="518.6" cy="258.6" r="1.35"/><circle cx="520.3" cy="259.3" r="1.35"/><circle cx="509.4" cy="242.6" r="1.35"/><circle cx="511.7" cy="243.4" r="1.35"/><circle cx="507" cy="244.8" r="1.35"/><circle cx="509.5" cy="246" r="1.35"/><circle cx="512" cy="246" r="1.35"/><circle cx="503.2" cy="255.5" r="1.35"/><circle cx="521.8" cy="262.2" r="1.35"/><circle cx="520.6" cy="264.8" r="1.35"/><circle cx="522.4" cy="264.8" r="1.35"/><circle cx="508.9" cy="283" r="1.35"/><circle cx="516.4" cy="283" r="1.35"/><circle cx="523.9" cy="283" r="1.35"/><line x1="457.6" y1="247" x2="457.6" y2="250.1" stroke="#000" stroke-width="2.7" stroke-linecap="round"/><line x1="524" y1="232" x2="524" y2="257" stroke="#000" stroke-width="2.7" stroke-linecap="round"/><line x1="522.2" y1="236" x2="522.2" y2="257" stroke="#000" stroke-width="2.7" stroke-linecap="round"/><line x1="520.3" y1="237" x2="520.3" y2="256.5" stroke="#000" stroke-width="2.7" stroke-linecap="round"/><line x1="518.5" y1="240" x2="518.5" y2="253" stroke="#000" stroke-width="2.7" stroke-linecap="round"/><line x1="516.8" y1="243" x2="516.8" y2="248" stroke="#000" stroke-width="2.7" stroke-linecap="round"/><line x1="506.8" y1="238.3" x2="506.8" y2="241.2" stroke="#000" stroke-width="2.7" stroke-linecap="round"/><line x1="508.8" y1="252" x2="508.8" y2="254.9" stroke="#000" stroke-width="2.7" stroke-linecap="round"/><circle cx="516.00" cy="237" r="1.35"/><circle cx="517.87" cy="237" r="1.35"/><circle cx="519.73" cy="237" r="1.35"/><circle cx="521.60" cy="237" r="1.35"/></g>
<line x1="401.4" y1="263.7" x2="523.9" y2="247.2" stroke="#1F40F2" stroke-width="2.0"/>
</g>
<text transform="translate(408.70,277.60) scale(0.945,1)" class="rs" text-anchor="start">r = 0.28*</text>
<line x1="116.00" y1="286.09999999999997" x2="116.00" y2="288.2" stroke="#333" stroke-width="0.9"/>
<text transform="translate(116.00,298.60) scale(0.943,1)" class="ax" text-anchor="middle">40</text>
<line x1="159.65" y1="286.09999999999997" x2="159.65" y2="288.2" stroke="#333" stroke-width="0.9"/>
<text transform="translate(159.65,298.60) scale(0.943,1)" class="ax" text-anchor="middle">60</text>
<line x1="203.30" y1="286.09999999999997" x2="203.30" y2="288.2" stroke="#333" stroke-width="0.9"/>
<text transform="translate(203.30,298.60) scale(0.943,1)" class="ax" text-anchor="middle">80</text>
<line x1="265.50" y1="285.7" x2="265.50" y2="287.8" stroke="#333" stroke-width="0.9"/>
<text transform="translate(265.50,298.10) scale(0.84,1)" class="ax" text-anchor="middle">15</text>
<line x1="293.05" y1="285.7" x2="293.05" y2="287.8" stroke="#333" stroke-width="0.9"/>
<text transform="translate(293.05,298.10) scale(0.84,1)" class="ax" text-anchor="middle">20</text>
<line x1="320.60" y1="285.7" x2="320.60" y2="287.8" stroke="#333" stroke-width="0.9"/>
<text transform="translate(320.60,298.10) scale(0.84,1)" class="ax" text-anchor="middle">25</text>
<line x1="348.15" y1="285.7" x2="348.15" y2="287.8" stroke="#333" stroke-width="0.9"/>
<text transform="translate(348.15,298.10) scale(0.84,1)" class="ax" text-anchor="middle">30</text>
<line x1="375.70" y1="285.7" x2="375.70" y2="287.8" stroke="#333" stroke-width="0.9"/>
<text transform="translate(375.70,298.10) scale(0.84,1)" class="ax" text-anchor="middle">35</text>
<line x1="401.00" y1="285.09999999999997" x2="401.00" y2="287.2" stroke="#333" stroke-width="0.9"/>
<text transform="translate(401.00,297.10) scale(0.82,1)" class="ax" text-anchor="middle">60</text>
<line x1="438.20" y1="285.09999999999997" x2="438.20" y2="287.2" stroke="#333" stroke-width="0.9"/>
<text transform="translate(438.20,297.10) scale(0.82,1)" class="ax" text-anchor="middle">80</text>
<line x1="475.40" y1="285.09999999999997" x2="475.40" y2="287.2" stroke="#333" stroke-width="0.9"/>
<text transform="translate(475.40,297.10) scale(0.82,1)" class="ax" text-anchor="middle">100</text>
<line x1="531.1" y1="76.30" x2="533.2" y2="76.30" stroke="#333" stroke-width="0.9"/>
<text transform="translate(544.40,79.20) scale(0.89,1)" class="ay" text-anchor="end">0</text>
<line x1="531.1" y1="66.10" x2="533.2" y2="66.10" stroke="#333" stroke-width="0.9"/>
<text transform="translate(544.40,69.00) scale(0.89,1)" class="ay" text-anchor="end">5</text>
<line x1="531.1" y1="55.90" x2="533.2" y2="55.90" stroke="#333" stroke-width="0.9"/>
<text transform="translate(544.40,58.80) scale(0.89,1)" class="ay" text-anchor="end">10</text>
<line x1="531.1" y1="45.70" x2="533.2" y2="45.70" stroke="#333" stroke-width="0.9"/>
<text transform="translate(544.40,48.60) scale(0.89,1)" class="ay" text-anchor="end">15</text>
<line x1="531.1" y1="35.50" x2="533.2" y2="35.50" stroke="#333" stroke-width="0.9"/>
<text transform="translate(544.40,38.40) scale(0.89,1)" class="ay" text-anchor="end">20</text>
<line x1="531.1" y1="25.30" x2="533.2" y2="25.30" stroke="#333" stroke-width="0.9"/>
<text transform="translate(544.40,28.20) scale(0.89,1)" class="ay" text-anchor="end">25</text>
<line x1="531.1" y1="145.20" x2="533.2" y2="145.20" stroke="#333" stroke-width="0.9"/>
<text transform="translate(544.40,148.10) scale(0.89,1)" class="ay" text-anchor="end">0</text>
<line x1="531.1" y1="135.04" x2="533.2" y2="135.04" stroke="#333" stroke-width="0.9"/>
<text transform="translate(544.40,137.94) scale(0.89,1)" class="ay" text-anchor="end">5</text>
<line x1="531.1" y1="124.88" x2="533.2" y2="124.88" stroke="#333" stroke-width="0.9"/>
<text transform="translate(544.40,127.78) scale(0.89,1)" class="ay" text-anchor="end">10</text>
<line x1="531.1" y1="114.72" x2="533.2" y2="114.72" stroke="#333" stroke-width="0.9"/>
<text transform="translate(544.40,117.62) scale(0.89,1)" class="ay" text-anchor="end">15</text>
<line x1="531.1" y1="104.56" x2="533.2" y2="104.56" stroke="#333" stroke-width="0.9"/>
<text transform="translate(544.40,107.46) scale(0.89,1)" class="ay" text-anchor="end">20</text>
<line x1="531.1" y1="94.40" x2="533.2" y2="94.40" stroke="#333" stroke-width="0.9"/>
<text transform="translate(544.40,97.30) scale(0.89,1)" class="ay" text-anchor="end">25</text>
<line x1="531.1" y1="214.90" x2="533.2" y2="214.90" stroke="#333" stroke-width="0.9"/>
<text transform="translate(544.40,217.80) scale(0.89,1)" class="ay" text-anchor="end">0</text>
<line x1="531.1" y1="202.10" x2="533.2" y2="202.10" stroke="#333" stroke-width="0.9"/>
<text transform="translate(544.40,205.00) scale(0.89,1)" class="ay" text-anchor="end">5</text>
<line x1="531.1" y1="189.30" x2="533.2" y2="189.30" stroke="#333" stroke-width="0.9"/>
<text transform="translate(544.40,192.20) scale(0.89,1)" class="ay" text-anchor="end">10</text>
<line x1="531.1" y1="176.50" x2="533.2" y2="176.50" stroke="#333" stroke-width="0.9"/>
<text transform="translate(544.40,179.40) scale(0.89,1)" class="ay" text-anchor="end">15</text>
<line x1="531.1" y1="163.70" x2="533.2" y2="163.70" stroke="#333" stroke-width="0.9"/>
<text transform="translate(544.40,166.60) scale(0.89,1)" class="ay" text-anchor="end">20</text>
<line x1="531.1" y1="282.70" x2="533.2" y2="282.70" stroke="#333" stroke-width="0.9"/>
<text transform="translate(544.40,285.60) scale(0.89,1)" class="ay" text-anchor="end">0</text>
<line x1="531.1" y1="267.88" x2="533.2" y2="267.88" stroke="#333" stroke-width="0.9"/>
<text transform="translate(544.40,270.78) scale(0.89,1)" class="ay" text-anchor="end">20</text>
<line x1="531.1" y1="253.06" x2="533.2" y2="253.06" stroke="#333" stroke-width="0.9"/>
<text transform="translate(544.40,255.96) scale(0.89,1)" class="ay" text-anchor="end">40</text>
<line x1="531.1" y1="238.24" x2="533.2" y2="238.24" stroke="#333" stroke-width="0.9"/>
<text transform="translate(544.40,241.14) scale(0.89,1)" class="ay" text-anchor="end">60</text>
<text transform="translate(168.80,14.30) scale(0.955,1)" class="hd" text-anchor="middle">Motor FIM</text>
<text transform="translate(318.70,14.30) scale(0.955,1)" class="hd" text-anchor="middle">Cognitive FIM</text>
<text transform="translate(466.00,14.30) scale(0.955,1)" class="hd" text-anchor="middle">Total FIM</text>
<text transform="translate(89.30,47.60) scale(0.955,1)" class="hd" text-anchor="end">Functional</text>
<text transform="translate(89.30,63.10) scale(0.955,1)" class="hd" text-anchor="end">HL</text>
<text transform="translate(91.80,118.60) scale(0.955,1)" class="hd" text-anchor="end">Communicative</text>
<text transform="translate(90.90,137.20) scale(0.955,1)" class="hd hk" text-anchor="end">HL</text>
<text transform="translate(89.30,189.10) scale(0.955,1)" class="hd" text-anchor="end">Critical</text>
<text transform="translate(89.30,204.90) scale(0.955,1)" class="hd" text-anchor="end">HL</text>
<text transform="translate(90.90,257.70) scale(0.955,1)" class="hd" text-anchor="end">Total</text>
<text transform="translate(90.90,273.20) scale(0.955,1)" class="hd" text-anchor="end">HL</text>
<text transform="translate(540.20,300.80) scale(0.97,1)" class="pv" text-anchor="end">* p &lt; 0.05</text>
</svg>
</body></html>
